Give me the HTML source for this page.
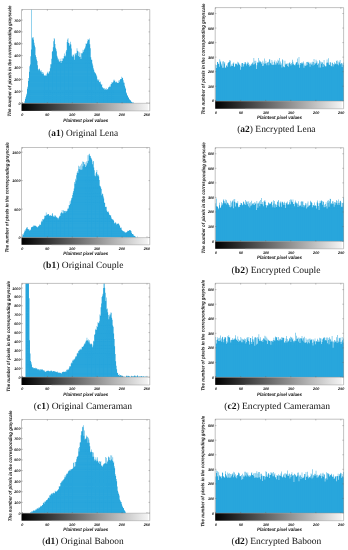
<!DOCTYPE html>
<html><head><meta charset="utf-8"><title>Histograms</title>
<style>
html,body{margin:0;padding:0;background:#fff;}
svg{display:block}
text{text-rendering:geometricPrecision}
.t{font-family:"Liberation Sans",sans-serif;font-weight:bold;font-style:italic;font-size:3.75px;fill:#111}
.l{font-family:"Liberation Sans",sans-serif;font-weight:bold;font-style:italic;font-size:4.8px;fill:#111}
.c{font-family:"Liberation Serif",serif;font-size:9.5px;fill:#111}
</style></head><body>
<svg width="348" height="550" viewBox="0 0 348 550">
<defs><linearGradient id="gr" x1="0" x2="1" y1="0" y2="0"><stop offset="0" stop-color="#000"/><stop offset="1" stop-color="#f4f4f4"/></linearGradient></defs>
<rect width="348" height="550" fill="#fff"/>
<g>
<path d="M23.994 103.30V103.14H24.442V103.30ZM24.492 103.30V101.26H24.940V103.30ZM24.990 103.30V98.94H25.438V103.30ZM25.488 103.30V97.18H25.936V103.30ZM25.986 103.30V95.47H26.434V103.30ZM26.484 103.30V93.69H26.932V103.30ZM26.982 103.30V88.72H27.430V103.30ZM27.480 103.30V86.73H27.928V103.30ZM27.978 103.30V81.08H28.426V103.30ZM28.476 103.30V77.99H28.924V103.30ZM28.974 103.30V71.70H29.422V103.30ZM29.472 103.30V66.30H29.920V103.30ZM29.970 103.30V64.56H30.418V103.30ZM30.468 103.30V56.34H30.916V103.30ZM30.966 103.30V49.44H31.414V103.30ZM31.464 103.30V9.50H31.912V103.30ZM31.962 103.30V38.19H32.410V103.30ZM32.460 103.30V37.14H32.908V103.30ZM32.958 103.30V39.79H33.406V103.30ZM33.456 103.30V37.36H33.904V103.30ZM33.954 103.30V42.76H34.402V103.30ZM34.452 103.30V45.58H34.900V103.30ZM34.950 103.30V47.18H35.398V103.30ZM35.448 103.30V55.17H35.896V103.30ZM35.946 103.30V57.12H36.394V103.30ZM36.444 103.30V59.41H36.892V103.30ZM36.942 103.30V61.01H37.390V103.30ZM37.440 103.30V65.34H37.888V103.30ZM37.938 103.30V69.08H38.386V103.30ZM38.436 103.30V70.25H38.884V103.30ZM38.934 103.30V68.39H39.382V103.30ZM39.432 103.30V69.35H39.880V103.30ZM39.930 103.30V70.57H40.378V103.30ZM40.428 103.30V71.54H40.876V103.30ZM40.926 103.30V70.22H41.374V103.30ZM41.424 103.30V72.31H41.872V103.30ZM41.922 103.30V74.11H42.370V103.30ZM42.420 103.30V71.89H42.868V103.30ZM42.918 103.30V72.57H43.366V103.30ZM43.416 103.30V73.75H43.864V103.30ZM43.914 103.30V75.49H44.362V103.30ZM44.412 103.30V75.61H44.860V103.30ZM44.910 103.30V75.24H45.358V103.30ZM45.408 103.30V75.87H45.856V103.30ZM45.906 103.30V74.24H46.354V103.30ZM46.404 103.30V75.64H46.852V103.30ZM46.902 103.30V73.05H47.350V103.30ZM47.400 103.30V71.78H47.848V103.30ZM47.898 103.30V74.02H48.346V103.30ZM48.396 103.30V72.75H48.844V103.30ZM48.894 103.30V71.23H49.342V103.30ZM49.392 103.30V71.62H49.840V103.30ZM49.890 103.30V68.37H50.338V103.30ZM50.388 103.30V64.34H50.836V103.30ZM50.886 103.30V64.25H51.334V103.30ZM51.384 103.30V58.86H51.832V103.30ZM51.882 103.30V51.83H52.330V103.30ZM52.380 103.30V50.96H52.828V103.30ZM52.878 103.30V47.16H53.326V103.30ZM53.376 103.30V41.26H53.824V103.30ZM53.874 103.30V38.06H54.322V103.30ZM54.372 103.30V39.30H54.820V103.30ZM54.870 103.30V43.89H55.318V103.30ZM55.368 103.30V47.65H55.816V103.30ZM55.866 103.30V49.17H56.314V103.30ZM56.364 103.30V51.15H56.812V103.30ZM56.862 103.30V55.81H57.310V103.30ZM57.360 103.30V57.52H57.808V103.30ZM57.858 103.30V59.85H58.306V103.30ZM58.356 103.30V58.79H58.804V103.30ZM58.854 103.30V61.17H59.302V103.30ZM59.352 103.30V61.63H59.800V103.30ZM59.850 103.30V58.69H60.298V103.30ZM60.348 103.30V61.11H60.796V103.30ZM60.846 103.30V63.12H61.294V103.30ZM61.344 103.30V61.10H61.792V103.30ZM61.842 103.30V58.21H62.290V103.30ZM62.340 103.30V60.89H62.788V103.30ZM62.838 103.30V58.85H63.286V103.30ZM63.336 103.30V58.18H63.784V103.30ZM63.834 103.30V55.97H64.282V103.30ZM64.332 103.30V53.49H64.780V103.30ZM64.830 103.30V56.45H65.278V103.30ZM65.328 103.30V55.51H65.776V103.30ZM65.826 103.30V51.45H66.274V103.30ZM66.324 103.30V49.95H66.772V103.30ZM66.822 103.30V41.99H67.270V103.30ZM67.320 103.30V39.39H67.768V103.30ZM67.818 103.30V38.18H68.266V103.30ZM68.316 103.30V42.63H68.764V103.30ZM68.814 103.30V43.08H69.262V103.30ZM69.312 103.30V45.87H69.760V103.30ZM69.810 103.30V44.32H70.258V103.30ZM70.308 103.30V41.69H70.756V103.30ZM70.806 103.30V44.38H71.254V103.30ZM71.304 103.30V48.45H71.752V103.30ZM71.802 103.30V55.66H72.250V103.30ZM72.300 103.30V56.84H72.748V103.30ZM72.798 103.30V54.42H73.246V103.30ZM73.296 103.30V54.85H73.744V103.30ZM73.794 103.30V56.51H74.242V103.30ZM74.292 103.30V59.71H74.740V103.30ZM74.790 103.30V53.62H75.238V103.30ZM75.288 103.30V53.58H75.736V103.30ZM75.786 103.30V55.18H76.234V103.30ZM76.284 103.30V52.95H76.732V103.30ZM76.782 103.30V48.20H77.230V103.30ZM77.280 103.30V50.87H77.728V103.30ZM77.778 103.30V51.20H78.226V103.30ZM78.276 103.30V56.09H78.724V103.30ZM78.774 103.30V51.81H79.222V103.30ZM79.272 103.30V56.98H79.720V103.30ZM79.770 103.30V52.68H80.218V103.30ZM80.268 103.30V56.66H80.716V103.30ZM80.766 103.30V58.89H81.214V103.30ZM81.264 103.30V53.07H81.712V103.30ZM81.762 103.30V53.68H82.210V103.30ZM82.260 103.30V52.82H82.708V103.30ZM82.758 103.30V49.80H83.206V103.30ZM83.256 103.30V51.79H83.704V103.30ZM83.754 103.30V49.99H84.202V103.30ZM84.252 103.30V48.78H84.700V103.30ZM84.750 103.30V48.23H85.198V103.30ZM85.248 103.30V46.58H85.696V103.30ZM85.746 103.30V43.59H86.194V103.30ZM86.244 103.30V43.96H86.692V103.30ZM86.742 103.30V43.16H87.190V103.30ZM87.240 103.30V41.25H87.688V103.30ZM87.738 103.30V39.18H88.186V103.30ZM88.236 103.30V39.38H88.684V103.30ZM88.734 103.30V40.02H89.182V103.30ZM89.232 103.30V38.45H89.680V103.30ZM89.730 103.30V44.31H90.178V103.30ZM90.228 103.30V48.21H90.676V103.30ZM90.726 103.30V57.20H91.174V103.30ZM91.224 103.30V59.84H91.672V103.30ZM91.722 103.30V59.79H92.170V103.30ZM92.220 103.30V63.53H92.668V103.30ZM92.718 103.30V65.49H93.166V103.30ZM93.216 103.30V68.25H93.664V103.30ZM93.714 103.30V69.83H94.162V103.30ZM94.212 103.30V71.71H94.660V103.30ZM94.710 103.30V72.46H95.158V103.30ZM95.208 103.30V72.89H95.656V103.30ZM95.706 103.30V73.95H96.154V103.30ZM96.204 103.30V75.29H96.652V103.30ZM96.702 103.30V76.54H97.150V103.30ZM97.200 103.30V79.21H97.648V103.30ZM97.698 103.30V80.43H98.146V103.30ZM98.196 103.30V80.62H98.644V103.30ZM98.694 103.30V79.14H99.142V103.30ZM99.192 103.30V81.91H99.640V103.30ZM99.690 103.30V82.22H100.138V103.30ZM100.188 103.30V81.38H100.636V103.30ZM100.686 103.30V83.84H101.134V103.30ZM101.184 103.30V84.91H101.632V103.30ZM101.682 103.30V84.00H102.130V103.30ZM102.180 103.30V87.14H102.628V103.30ZM102.678 103.30V87.40H103.126V103.30ZM103.176 103.30V88.54H103.624V103.30ZM103.674 103.30V88.31H104.122V103.30ZM104.172 103.30V88.37H104.620V103.30ZM104.670 103.30V89.79H105.118V103.30ZM105.168 103.30V88.82H105.616V103.30ZM105.666 103.30V89.43H106.114V103.30ZM106.164 103.30V88.15H106.612V103.30ZM106.662 103.30V89.97H107.110V103.30ZM107.160 103.30V89.05H107.608V103.30ZM107.658 103.30V89.23H108.106V103.30ZM108.156 103.30V87.53H108.604V103.30ZM108.654 103.30V87.37H109.102V103.30ZM109.152 103.30V87.10H109.600V103.30ZM109.650 103.30V85.76H110.098V103.30ZM110.148 103.30V86.87H110.596V103.30ZM110.646 103.30V84.23H111.094V103.30ZM111.144 103.30V84.12H111.592V103.30ZM111.642 103.30V82.16H112.090V103.30ZM112.140 103.30V82.74H112.588V103.30ZM112.638 103.30V82.23H113.086V103.30ZM113.136 103.30V81.38H113.584V103.30ZM113.634 103.30V79.72H114.082V103.30ZM114.132 103.30V81.05H114.580V103.30ZM114.630 103.30V79.79H115.078V103.30ZM115.128 103.30V81.68H115.576V103.30ZM115.626 103.30V82.38H116.074V103.30ZM116.124 103.30V82.13H116.572V103.30ZM116.622 103.30V81.62H117.070V103.30ZM117.120 103.30V82.74H117.568V103.30ZM117.618 103.30V83.02H118.066V103.30ZM118.116 103.30V82.95H118.564V103.30ZM118.614 103.30V80.60H119.062V103.30ZM119.112 103.30V81.83H119.560V103.30ZM119.610 103.30V80.00H120.058V103.30ZM120.108 103.30V79.37H120.556V103.30ZM120.606 103.30V78.96H121.054V103.30ZM121.104 103.30V78.98H121.552V103.30ZM121.602 103.30V76.68H122.050V103.30ZM122.100 103.30V77.72H122.548V103.30ZM122.598 103.30V77.89H123.046V103.30ZM123.096 103.30V80.17H123.544V103.30ZM123.594 103.30V82.41H124.042V103.30ZM124.092 103.30V82.87H124.540V103.30ZM124.590 103.30V85.65H125.038V103.30ZM125.088 103.30V87.47H125.536V103.30ZM125.586 103.30V88.81H126.034V103.30ZM126.084 103.30V92.54H126.532V103.30ZM126.582 103.30V93.61H127.030V103.30ZM127.080 103.30V95.15H127.528V103.30ZM127.578 103.30V95.71H128.026V103.30ZM128.076 103.30V97.14H128.524V103.30ZM128.574 103.30V97.65H129.022V103.30ZM129.072 103.30V99.06H129.520V103.30ZM129.570 103.30V99.77H130.018V103.30ZM130.068 103.30V99.99H130.516V103.30ZM130.566 103.30V100.69H131.014V103.30ZM131.064 103.30V101.66H131.512V103.30ZM131.562 103.30V101.77H132.010V103.30ZM132.060 103.30V102.62H132.508V103.30ZM132.558 103.30V102.60H133.006V103.30ZM133.056 103.30V102.49H133.504V103.30ZM133.554 103.30V102.64H134.002V103.30Z" fill="#0e9bd8"/>
<rect x="21.5" y="103.3" width="126.45" height="7.60" fill="url(#gr)"/>
<path d="M21.5 103.3V9.5H149.75V110.9" fill="none" stroke="#8f8f8f" stroke-width="0.55"/>
<path d="M21.5 103.3H149.75M51.5 110.9H149.75" fill="none" stroke="#8f8f8f" stroke-width="0.45"/>
<text class="t" x="20.50" y="104.50" text-anchor="end">0</text>
<text class="t" x="20.50" y="92.65" text-anchor="end">100</text>
<text class="t" x="20.50" y="80.80" text-anchor="end">200</text>
<text class="t" x="20.50" y="68.95" text-anchor="end">300</text>
<text class="t" x="20.50" y="57.10" text-anchor="end">400</text>
<text class="t" x="20.50" y="45.25" text-anchor="end">500</text>
<text class="t" x="20.50" y="33.40" text-anchor="end">600</text>
<text class="t" x="20.50" y="21.55" text-anchor="end">700</text>
<text class="t" x="22.40" y="116.05" text-anchor="middle">0</text>
<text class="t" x="47.30" y="116.05" text-anchor="middle">50</text>
<text class="t" x="72.20" y="116.05" text-anchor="middle">100</text>
<text class="t" x="97.10" y="116.05" text-anchor="middle">150</text>
<text class="t" x="122.00" y="116.05" text-anchor="middle">200</text>
<text class="t" x="146.90" y="116.05" text-anchor="middle">250</text>
<path d="M21.5 103.00h1.2M149.75 103.00h-1.2M21.5 91.15h1.2M149.75 91.15h-1.2M21.5 79.30h1.2M149.75 79.30h-1.2M21.5 67.45h1.2M149.75 67.45h-1.2M21.5 55.60h1.2M149.75 55.60h-1.2M21.5 43.75h1.2M149.75 43.75h-1.2M21.5 31.90h1.2M149.75 31.90h-1.2M21.5 20.05h1.2M149.75 20.05h-1.2M22.50 103.3v-1.2M22.50 9.5v1.2M47.40 103.3v-1.2M47.40 9.5v1.2M72.30 103.3v-1.2M72.30 9.5v1.2M97.20 103.3v-1.2M97.20 9.5v1.2M122.10 103.3v-1.2M122.10 9.5v1.2M147.00 103.3v-1.2M147.00 9.5v1.2" stroke="#666" stroke-width="0.45" fill="none"/>
<text class="l" transform="translate(11.20 61.00) rotate(-89.9)" text-anchor="middle" textLength="110.8" lengthAdjust="spacingAndGlyphs">The number of pixels in the corresponding grayscale</text>
<text class="l" x="85.78" y="121.50" text-anchor="middle" textLength="45.0" lengthAdjust="spacingAndGlyphs">Plaintext pixel values</text>
</g>
<g>
<path d="M215.600 101.10V64.43H216.051V101.10ZM216.101 101.10V68.09H216.552V101.10ZM216.602 101.10V65.01H217.053V101.10ZM217.103 101.10V62.09H217.554V101.10ZM217.604 101.10V62.10H218.055V101.10ZM218.105 101.10V63.54H218.556V101.10ZM218.606 101.10V63.96H219.057V101.10ZM219.107 101.10V66.71H219.558V101.10ZM219.608 101.10V59.16H220.059V101.10ZM220.109 101.10V62.21H220.560V101.10ZM220.610 101.10V60.87H221.061V101.10ZM221.111 101.10V65.47H221.562V101.10ZM221.612 101.10V63.85H222.063V101.10ZM222.113 101.10V67.65H222.564V101.10ZM222.614 101.10V61.60H223.065V101.10ZM223.115 101.10V61.24H223.566V101.10ZM223.616 101.10V67.83H224.067V101.10ZM224.117 101.10V63.54H224.568V101.10ZM224.618 101.10V61.95H225.069V101.10ZM225.119 101.10V67.52H225.570V101.10ZM225.620 101.10V67.67H226.071V101.10ZM226.121 101.10V65.90H226.572V101.10ZM226.622 101.10V64.88H227.073V101.10ZM227.123 101.10V66.68H227.574V101.10ZM227.624 101.10V63.34H228.075V101.10ZM228.125 101.10V62.83H228.576V101.10ZM228.626 101.10V61.94H229.077V101.10ZM229.127 101.10V61.78H229.578V101.10ZM229.628 101.10V59.92H230.079V101.10ZM230.129 101.10V60.70H230.580V101.10ZM230.630 101.10V66.47H231.081V101.10ZM231.131 101.10V64.59H231.582V101.10ZM231.632 101.10V65.88H232.083V101.10ZM232.133 101.10V65.92H232.584V101.10ZM232.634 101.10V63.60H233.085V101.10ZM233.135 101.10V63.40H233.586V101.10ZM233.636 101.10V62.27H234.087V101.10ZM234.137 101.10V67.11H234.588V101.10ZM234.638 101.10V66.30H235.089V101.10ZM235.139 101.10V63.47H235.590V101.10ZM235.640 101.10V63.88H236.091V101.10ZM236.141 101.10V64.14H236.592V101.10ZM236.642 101.10V63.56H237.093V101.10ZM237.143 101.10V65.18H237.594V101.10ZM237.644 101.10V61.78H238.095V101.10ZM238.145 101.10V62.59H238.596V101.10ZM238.646 101.10V63.62H239.097V101.10ZM239.147 101.10V64.98H239.598V101.10ZM239.648 101.10V63.82H240.099V101.10ZM240.149 101.10V69.75H240.600V101.10ZM240.650 101.10V65.70H241.101V101.10ZM241.151 101.10V63.33H241.602V101.10ZM241.652 101.10V66.92H242.103V101.10ZM242.153 101.10V62.95H242.604V101.10ZM242.654 101.10V63.07H243.105V101.10ZM243.155 101.10V66.62H243.606V101.10ZM243.656 101.10V64.00H244.107V101.10ZM244.157 101.10V64.15H244.608V101.10ZM244.658 101.10V62.34H245.109V101.10ZM245.159 101.10V61.99H245.610V101.10ZM245.660 101.10V63.50H246.111V101.10ZM246.161 101.10V65.40H246.612V101.10ZM246.662 101.10V63.75H247.113V101.10ZM247.163 101.10V63.57H247.614V101.10ZM247.664 101.10V61.71H248.115V101.10ZM248.165 101.10V62.73H248.616V101.10ZM248.666 101.10V65.10H249.117V101.10ZM249.167 101.10V66.57H249.618V101.10ZM249.668 101.10V64.28H250.119V101.10ZM250.169 101.10V65.14H250.620V101.10ZM250.670 101.10V66.00H251.121V101.10ZM251.171 101.10V63.69H251.622V101.10ZM251.672 101.10V64.56H252.123V101.10ZM252.173 101.10V63.17H252.624V101.10ZM252.674 101.10V62.20H253.125V101.10ZM253.175 101.10V64.38H253.626V101.10ZM253.676 101.10V58.00H254.127V101.10ZM254.177 101.10V64.16H254.628V101.10ZM254.678 101.10V60.85H255.129V101.10ZM255.179 101.10V63.13H255.630V101.10ZM255.680 101.10V60.82H256.131V101.10ZM256.181 101.10V68.95H256.632V101.10ZM256.682 101.10V65.16H257.133V101.10ZM257.183 101.10V62.84H257.634V101.10ZM257.684 101.10V62.01H258.135V101.10ZM258.185 101.10V57.98H258.636V101.10ZM258.686 101.10V62.66H259.137V101.10ZM259.187 101.10V60.44H259.638V101.10ZM259.688 101.10V61.63H260.139V101.10ZM260.189 101.10V61.21H260.640V101.10ZM260.690 101.10V62.23H261.141V101.10ZM261.191 101.10V63.78H261.642V101.10ZM261.692 101.10V62.23H262.143V101.10ZM262.193 101.10V65.93H262.644V101.10ZM262.694 101.10V60.67H263.145V101.10ZM263.195 101.10V65.78H263.646V101.10ZM263.696 101.10V62.84H264.147V101.10ZM264.197 101.10V58.48H264.648V101.10ZM264.698 101.10V63.94H265.149V101.10ZM265.199 101.10V63.37H265.650V101.10ZM265.700 101.10V60.71H266.151V101.10ZM266.201 101.10V63.35H266.652V101.10ZM266.702 101.10V65.30H267.153V101.10ZM267.203 101.10V62.81H267.654V101.10ZM267.704 101.10V62.06H268.155V101.10ZM268.205 101.10V61.76H268.656V101.10ZM268.706 101.10V65.21H269.157V101.10ZM269.207 101.10V59.34H269.658V101.10ZM269.708 101.10V59.54H270.159V101.10ZM270.209 101.10V63.37H270.660V101.10ZM270.710 101.10V62.79H271.161V101.10ZM271.211 101.10V64.41H271.662V101.10ZM271.712 101.10V60.12H272.163V101.10ZM272.213 101.10V65.06H272.664V101.10ZM272.714 101.10V61.85H273.165V101.10ZM273.215 101.10V64.53H273.666V101.10ZM273.716 101.10V65.03H274.167V101.10ZM274.217 101.10V61.74H274.668V101.10ZM274.718 101.10V60.31H275.169V101.10ZM275.219 101.10V63.44H275.670V101.10ZM275.720 101.10V64.99H276.171V101.10ZM276.221 101.10V61.53H276.672V101.10ZM276.722 101.10V63.53H277.173V101.10ZM277.223 101.10V62.69H277.674V101.10ZM277.724 101.10V59.87H278.175V101.10ZM278.225 101.10V60.78H278.676V101.10ZM278.726 101.10V64.63H279.177V101.10ZM279.227 101.10V58.10H279.678V101.10ZM279.728 101.10V63.41H280.179V101.10ZM280.229 101.10V61.59H280.680V101.10ZM280.730 101.10V64.92H281.181V101.10ZM281.231 101.10V63.52H281.682V101.10ZM281.732 101.10V67.49H282.183V101.10ZM282.233 101.10V59.26H282.684V101.10ZM282.734 101.10V60.24H283.185V101.10ZM283.235 101.10V66.24H283.686V101.10ZM283.736 101.10V66.92H284.187V101.10ZM284.237 101.10V67.19H284.688V101.10ZM284.738 101.10V60.68H285.189V101.10ZM285.239 101.10V64.49H285.690V101.10ZM285.740 101.10V63.56H286.191V101.10ZM286.241 101.10V64.14H286.692V101.10ZM286.742 101.10V63.70H287.193V101.10ZM287.243 101.10V65.95H287.694V101.10ZM287.744 101.10V63.36H288.195V101.10ZM288.245 101.10V66.76H288.696V101.10ZM288.746 101.10V63.58H289.197V101.10ZM289.247 101.10V62.70H289.698V101.10ZM289.748 101.10V62.33H290.199V101.10ZM290.249 101.10V63.95H290.700V101.10ZM290.750 101.10V65.52H291.201V101.10ZM291.251 101.10V63.04H291.702V101.10ZM291.752 101.10V64.54H292.203V101.10ZM292.253 101.10V59.77H292.704V101.10ZM292.754 101.10V61.63H293.205V101.10ZM293.255 101.10V63.68H293.706V101.10ZM293.756 101.10V64.51H294.207V101.10ZM294.257 101.10V65.05H294.708V101.10ZM294.758 101.10V65.60H295.209V101.10ZM295.259 101.10V64.24H295.710V101.10ZM295.760 101.10V62.73H296.211V101.10ZM296.261 101.10V62.22H296.712V101.10ZM296.762 101.10V62.09H297.213V101.10ZM297.263 101.10V58.53H297.714V101.10ZM297.764 101.10V65.06H298.215V101.10ZM298.265 101.10V63.39H298.716V101.10ZM298.766 101.10V56.91H299.217V101.10ZM299.267 101.10V67.76H299.718V101.10ZM299.768 101.10V64.63H300.219V101.10ZM300.269 101.10V63.02H300.720V101.10ZM300.770 101.10V63.06H301.221V101.10ZM301.271 101.10V62.47H301.722V101.10ZM301.772 101.10V63.97H302.223V101.10ZM302.273 101.10V62.56H302.724V101.10ZM302.774 101.10V63.29H303.225V101.10ZM303.275 101.10V61.62H303.726V101.10ZM303.776 101.10V67.82H304.227V101.10ZM304.277 101.10V65.48H304.728V101.10ZM304.778 101.10V63.42H305.229V101.10ZM305.279 101.10V65.82H305.730V101.10ZM305.780 101.10V65.85H306.231V101.10ZM306.281 101.10V61.95H306.732V101.10ZM306.782 101.10V64.93H307.233V101.10ZM307.283 101.10V61.94H307.734V101.10ZM307.784 101.10V61.68H308.235V101.10ZM308.285 101.10V62.70H308.736V101.10ZM308.786 101.10V62.23H309.237V101.10ZM309.287 101.10V63.66H309.738V101.10ZM309.788 101.10V66.70H310.239V101.10ZM310.289 101.10V63.49H310.740V101.10ZM310.790 101.10V62.36H311.241V101.10ZM311.291 101.10V64.65H311.742V101.10ZM311.792 101.10V63.65H312.243V101.10ZM312.293 101.10V61.67H312.744V101.10ZM312.794 101.10V65.46H313.245V101.10ZM313.295 101.10V61.93H313.746V101.10ZM313.796 101.10V59.08H314.247V101.10ZM314.297 101.10V64.71H314.748V101.10ZM314.798 101.10V63.07H315.249V101.10ZM315.299 101.10V63.77H315.750V101.10ZM315.800 101.10V59.83H316.251V101.10ZM316.301 101.10V62.68H316.752V101.10ZM316.802 101.10V61.33H317.253V101.10ZM317.303 101.10V65.02H317.754V101.10ZM317.804 101.10V63.45H318.255V101.10ZM318.305 101.10V63.44H318.756V101.10ZM318.806 101.10V67.55H319.257V101.10ZM319.307 101.10V60.06H319.758V101.10ZM319.808 101.10V61.32H320.259V101.10ZM320.309 101.10V67.49H320.760V101.10ZM320.810 101.10V61.68H321.261V101.10ZM321.311 101.10V63.72H321.762V101.10ZM321.812 101.10V62.37H322.263V101.10ZM322.313 101.10V62.56H322.764V101.10ZM322.814 101.10V66.91H323.265V101.10ZM323.315 101.10V63.91H323.766V101.10ZM323.816 101.10V59.94H324.267V101.10ZM324.317 101.10V64.75H324.768V101.10ZM324.818 101.10V65.80H325.269V101.10ZM325.319 101.10V66.58H325.770V101.10ZM325.820 101.10V66.26H326.271V101.10ZM326.321 101.10V62.63H326.772V101.10ZM326.822 101.10V59.48H327.273V101.10ZM327.323 101.10V62.42H327.774V101.10ZM327.824 101.10V62.84H328.275V101.10ZM328.325 101.10V58.22H328.776V101.10ZM328.826 101.10V64.62H329.277V101.10ZM329.327 101.10V64.98H329.778V101.10ZM329.828 101.10V62.19H330.279V101.10ZM330.329 101.10V62.14H330.780V101.10ZM330.830 101.10V65.78H331.281V101.10ZM331.331 101.10V66.14H331.782V101.10ZM331.832 101.10V62.74H332.283V101.10ZM332.333 101.10V62.84H332.784V101.10ZM332.834 101.10V66.46H333.285V101.10ZM333.335 101.10V63.89H333.786V101.10ZM333.836 101.10V64.68H334.287V101.10ZM334.337 101.10V62.34H334.788V101.10ZM334.838 101.10V63.69H335.289V101.10ZM335.339 101.10V63.62H335.790V101.10ZM335.840 101.10V64.24H336.291V101.10ZM336.341 101.10V60.96H336.792V101.10ZM336.842 101.10V60.18H337.293V101.10ZM337.343 101.10V64.27H337.794V101.10ZM337.844 101.10V61.45H338.295V101.10ZM338.345 101.10V65.18H338.796V101.10ZM338.846 101.10V63.25H339.297V101.10ZM339.347 101.10V61.67H339.798V101.10ZM339.848 101.10V59.89H340.299V101.10ZM340.349 101.10V64.31H340.800V101.10ZM340.850 101.10V63.59H341.301V101.10ZM341.351 101.10V62.96H341.802V101.10ZM341.852 101.10V66.90H342.303V101.10ZM342.353 101.10V63.38H342.804V101.10ZM342.854 101.10V64.99H343.305V101.10ZM343.355 101.10V62.55H343.806V101.10Z" fill="#0e9bd8"/>
<rect x="215.2" y="101.1" width="126.60" height="7.65" fill="url(#gr)"/>
<path d="M215.2 101.1V7.6H343.6V108.75" fill="none" stroke="#8f8f8f" stroke-width="0.55"/>
<path d="M215.2 101.1H343.6M245.2 108.75H343.6" fill="none" stroke="#8f8f8f" stroke-width="0.45"/>
<text class="t" x="214.20" y="102.30" text-anchor="end">0</text>
<text class="t" x="214.20" y="87.75" text-anchor="end">100</text>
<text class="t" x="214.20" y="73.20" text-anchor="end">200</text>
<text class="t" x="214.20" y="58.65" text-anchor="end">300</text>
<text class="t" x="214.20" y="44.10" text-anchor="end">400</text>
<text class="t" x="214.20" y="29.55" text-anchor="end">500</text>
<text class="t" x="214.20" y="15.00" text-anchor="end">600</text>
<text class="t" x="216.00" y="113.90" text-anchor="middle">0</text>
<text class="t" x="241.05" y="113.90" text-anchor="middle">50</text>
<text class="t" x="266.10" y="113.90" text-anchor="middle">100</text>
<text class="t" x="291.15" y="113.90" text-anchor="middle">150</text>
<text class="t" x="316.20" y="113.90" text-anchor="middle">200</text>
<text class="t" x="341.25" y="113.90" text-anchor="middle">250</text>
<path d="M215.2 100.80h1.2M343.6 100.80h-1.2M215.2 86.25h1.2M343.6 86.25h-1.2M215.2 71.70h1.2M343.6 71.70h-1.2M215.2 57.15h1.2M343.6 57.15h-1.2M215.2 42.60h1.2M343.6 42.60h-1.2M215.2 28.05h1.2M343.6 28.05h-1.2M215.2 13.50h1.2M343.6 13.50h-1.2M215.60 101.1v-1.2M215.60 7.6v1.2M240.65 101.1v-1.2M240.65 7.6v1.2M265.70 101.1v-1.2M265.70 7.6v1.2M290.75 101.1v-1.2M290.75 7.6v1.2M315.80 101.1v-1.2M315.80 7.6v1.2M340.85 101.1v-1.2M340.85 7.6v1.2" stroke="#666" stroke-width="0.45" fill="none"/>
<text class="l" transform="translate(204.80 59.10) rotate(-89.9)" text-anchor="middle" textLength="111.0" lengthAdjust="spacingAndGlyphs">The number of pixels in the corresponding grayscale</text>
<text class="l" x="279.55" y="119.35" text-anchor="middle" textLength="45.0" lengthAdjust="spacingAndGlyphs">Plaintext pixel values</text>
</g>
<g>
<path d="M22.500 237.60V234.35H22.948V237.60ZM22.998 237.60V234.78H23.446V237.60ZM23.496 237.60V233.21H23.944V237.60ZM23.994 237.60V232.36H24.442V237.60ZM24.492 237.60V230.60H24.940V237.60ZM24.990 237.60V230.68H25.438V237.60ZM25.488 237.60V229.17H25.936V237.60ZM25.986 237.60V228.50H26.434V237.60ZM26.484 237.60V227.55H26.932V237.60ZM26.982 237.60V227.09H27.430V237.60ZM27.480 237.60V228.72H27.928V237.60ZM27.978 237.60V229.49H28.426V237.60ZM28.476 237.60V229.11H28.924V237.60ZM28.974 237.60V230.83H29.422V237.60ZM29.472 237.60V229.48H29.920V237.60ZM29.970 237.60V230.36H30.418V237.60ZM30.468 237.60V229.49H30.916V237.60ZM30.966 237.60V227.41H31.414V237.60ZM31.464 237.60V226.92H31.912V237.60ZM31.962 237.60V227.07H32.410V237.60ZM32.460 237.60V226.54H32.908V237.60ZM32.958 237.60V226.43H33.406V237.60ZM33.456 237.60V225.42H33.904V237.60ZM33.954 237.60V225.30H34.402V237.60ZM34.452 237.60V225.94H34.900V237.60ZM34.950 237.60V225.84H35.398V237.60ZM35.448 237.60V225.77H35.896V237.60ZM35.946 237.60V226.24H36.394V237.60ZM36.444 237.60V226.76H36.892V237.60ZM36.942 237.60V227.11H37.390V237.60ZM37.440 237.60V227.53H37.888V237.60ZM37.938 237.60V226.00H38.386V237.60ZM38.436 237.60V226.54H38.884V237.60ZM38.934 237.60V225.49H39.382V237.60ZM39.432 237.60V224.62H39.880V237.60ZM39.930 237.60V224.59H40.378V237.60ZM40.428 237.60V224.92H40.876V237.60ZM40.926 237.60V222.26H41.374V237.60ZM41.424 237.60V220.80H41.872V237.60ZM41.922 237.60V221.62H42.370V237.60ZM42.420 237.60V219.01H42.868V237.60ZM42.918 237.60V219.51H43.366V237.60ZM43.416 237.60V219.22H43.864V237.60ZM43.914 237.60V218.51H44.362V237.60ZM44.412 237.60V215.66H44.860V237.60ZM44.910 237.60V215.60H45.358V237.60ZM45.408 237.60V216.02H45.856V237.60ZM45.906 237.60V212.57H46.354V237.60ZM46.404 237.60V215.21H46.852V237.60ZM46.902 237.60V214.92H47.350V237.60ZM47.400 237.60V214.16H47.848V237.60ZM47.898 237.60V213.90H48.346V237.60ZM48.396 237.60V213.97H48.844V237.60ZM48.894 237.60V215.34H49.342V237.60ZM49.392 237.60V215.93H49.840V237.60ZM49.890 237.60V214.91H50.338V237.60ZM50.388 237.60V215.39H50.836V237.60ZM50.886 237.60V216.06H51.334V237.60ZM51.384 237.60V215.80H51.832V237.60ZM51.882 237.60V214.24H52.330V237.60ZM52.380 237.60V212.95H52.828V237.60ZM52.878 237.60V216.24H53.326V237.60ZM53.376 237.60V216.43H53.824V237.60ZM53.874 237.60V215.20H54.322V237.60ZM54.372 237.60V216.82H54.820V237.60ZM54.870 237.60V215.80H55.318V237.60ZM55.368 237.60V215.57H55.816V237.60ZM55.866 237.60V217.13H56.314V237.60ZM56.364 237.60V216.80H56.812V237.60ZM56.862 237.60V217.69H57.310V237.60ZM57.360 237.60V217.87H57.808V237.60ZM57.858 237.60V219.28H58.306V237.60ZM58.356 237.60V218.08H58.804V237.60ZM58.854 237.60V217.10H59.302V237.60ZM59.352 237.60V215.87H59.800V237.60ZM59.850 237.60V215.91H60.298V237.60ZM60.348 237.60V213.54H60.796V237.60ZM60.846 237.60V212.75H61.294V237.60ZM61.344 237.60V212.24H61.792V237.60ZM61.842 237.60V209.98H62.290V237.60ZM62.340 237.60V213.25H62.788V237.60ZM62.838 237.60V213.30H63.286V237.60ZM63.336 237.60V210.27H63.784V237.60ZM63.834 237.60V210.87H64.282V237.60ZM64.332 237.60V211.12H64.780V237.60ZM64.830 237.60V212.67H65.278V237.60ZM65.328 237.60V211.12H65.776V237.60ZM65.826 237.60V210.63H66.274V237.60ZM66.324 237.60V211.39H66.772V237.60ZM66.822 237.60V211.07H67.270V237.60ZM67.320 237.60V209.33H67.768V237.60ZM67.818 237.60V207.66H68.266V237.60ZM68.316 237.60V208.74H68.764V237.60ZM68.814 237.60V205.09H69.262V237.60ZM69.312 237.60V205.17H69.760V237.60ZM69.810 237.60V201.35H70.258V237.60ZM70.308 237.60V203.77H70.756V237.60ZM70.806 237.60V200.36H71.254V237.60ZM71.304 237.60V198.20H71.752V237.60ZM71.802 237.60V197.69H72.250V237.60ZM72.300 237.60V195.08H72.748V237.60ZM72.798 237.60V192.72H73.246V237.60ZM73.296 237.60V191.04H73.744V237.60ZM73.794 237.60V188.52H74.242V237.60ZM74.292 237.60V182.04H74.740V237.60ZM74.790 237.60V183.84H75.238V237.60ZM75.288 237.60V178.85H75.736V237.60ZM75.786 237.60V180.52H76.234V237.60ZM76.284 237.60V175.16H76.732V237.60ZM76.782 237.60V172.74H77.230V237.60ZM77.280 237.60V171.29H77.728V237.60ZM77.778 237.60V172.91H78.226V237.60ZM78.276 237.60V165.71H78.724V237.60ZM78.774 237.60V169.31H79.222V237.60ZM79.272 237.60V166.42H79.720V237.60ZM79.770 237.60V169.14H80.218V237.60ZM80.268 237.60V165.48H80.716V237.60ZM80.766 237.60V170.07H81.214V237.60ZM81.264 237.60V163.75H81.712V237.60ZM81.762 237.60V169.59H82.210V237.60ZM82.260 237.60V161.52H82.708V237.60ZM82.758 237.60V166.27H83.206V237.60ZM83.256 237.60V161.66H83.704V237.60ZM83.754 237.60V162.05H84.202V237.60ZM84.252 237.60V163.90H84.700V237.60ZM84.750 237.60V164.66H85.198V237.60ZM85.248 237.60V167.05H85.696V237.60ZM85.746 237.60V162.35H86.194V237.60ZM86.244 237.60V165.52H86.692V237.60ZM86.742 237.60V160.91H87.190V237.60ZM87.240 237.60V163.17H87.688V237.60ZM87.738 237.60V155.14H88.186V237.60ZM88.236 237.60V160.81H88.684V237.60ZM88.734 237.60V154.39H89.182V237.60ZM89.232 237.60V153.71H89.680V237.60ZM89.730 237.60V155.64H90.178V237.60ZM90.228 237.60V155.92H90.676V237.60ZM90.726 237.60V157.75H91.174V237.60ZM91.224 237.60V158.53H91.672V237.60ZM91.722 237.60V159.63H92.170V237.60ZM92.220 237.60V164.31H92.668V237.60ZM92.718 237.60V161.50H93.166V237.60ZM93.216 237.60V161.05H93.664V237.60ZM93.714 237.60V167.45H94.162V237.60ZM94.212 237.60V170.29H94.660V237.60ZM94.710 237.60V175.39H95.158V237.60ZM95.208 237.60V176.27H95.656V237.60ZM95.706 237.60V173.34H96.154V237.60ZM96.204 237.60V172.04H96.652V237.60ZM96.702 237.60V170.06H97.150V237.60ZM97.200 237.60V174.13H97.648V237.60ZM97.698 237.60V175.73H98.146V237.60ZM98.196 237.60V174.84H98.644V237.60ZM98.694 237.60V176.39H99.142V237.60ZM99.192 237.60V179.93H99.640V237.60ZM99.690 237.60V185.72H100.138V237.60ZM100.188 237.60V186.36H100.636V237.60ZM100.686 237.60V187.53H101.134V237.60ZM101.184 237.60V189.09H101.632V237.60ZM101.682 237.60V195.34H102.130V237.60ZM102.180 237.60V193.43H102.628V237.60ZM102.678 237.60V194.11H103.126V237.60ZM103.176 237.60V196.43H103.624V237.60ZM103.674 237.60V198.62H104.122V237.60ZM104.172 237.60V202.60H104.620V237.60ZM104.670 237.60V202.99H105.118V237.60ZM105.168 237.60V206.79H105.616V237.60ZM105.666 237.60V206.92H106.114V237.60ZM106.164 237.60V206.80H106.612V237.60ZM106.662 237.60V210.45H107.110V237.60ZM107.160 237.60V212.10H107.608V237.60ZM107.658 237.60V211.52H108.106V237.60ZM108.156 237.60V211.38H108.604V237.60ZM108.654 237.60V212.64H109.102V237.60ZM109.152 237.60V214.65H109.600V237.60ZM109.650 237.60V214.86H110.098V237.60ZM110.148 237.60V215.43H110.596V237.60ZM110.646 237.60V215.34H111.094V237.60ZM111.144 237.60V217.45H111.592V237.60ZM111.642 237.60V218.88H112.090V237.60ZM112.140 237.60V219.18H112.588V237.60ZM112.638 237.60V219.56H113.086V237.60ZM113.136 237.60V219.63H113.584V237.60ZM113.634 237.60V220.71H114.082V237.60ZM114.132 237.60V222.68H114.580V237.60ZM114.630 237.60V223.49H115.078V237.60ZM115.128 237.60V222.54H115.576V237.60ZM115.626 237.60V222.59H116.074V237.60ZM116.124 237.60V224.42H116.572V237.60ZM116.622 237.60V223.57H117.070V237.60ZM117.120 237.60V224.00H117.568V237.60ZM117.618 237.60V223.57H118.066V237.60ZM118.116 237.60V223.20H118.564V237.60ZM118.614 237.60V224.09H119.062V237.60ZM119.112 237.60V224.67H119.560V237.60ZM119.610 237.60V225.72H120.058V237.60ZM120.108 237.60V227.59H120.556V237.60ZM120.606 237.60V227.88H121.054V237.60ZM121.104 237.60V227.62H121.552V237.60ZM121.602 237.60V229.68H122.050V237.60ZM122.100 237.60V230.32H122.548V237.60ZM122.598 237.60V231.07H123.046V237.60ZM123.096 237.60V231.52H123.544V237.60ZM123.594 237.60V231.08H124.042V237.60ZM124.092 237.60V231.49H124.540V237.60ZM124.590 237.60V232.31H125.038V237.60ZM125.088 237.60V232.64H125.536V237.60ZM125.586 237.60V232.26H126.034V237.60ZM126.084 237.60V232.61H126.532V237.60ZM126.582 237.60V232.10H127.030V237.60ZM127.080 237.60V231.50H127.528V237.60ZM127.578 237.60V230.75H128.026V237.60ZM128.076 237.60V230.69H128.524V237.60ZM128.574 237.60V230.94H129.022V237.60ZM129.072 237.60V230.34H129.520V237.60ZM129.570 237.60V229.96H130.018V237.60ZM130.068 237.60V230.44H130.516V237.60ZM130.566 237.60V230.34H131.014V237.60ZM131.064 237.60V231.21H131.512V237.60ZM131.562 237.60V233.05H132.010V237.60ZM132.060 237.60V234.10H132.508V237.60ZM132.558 237.60V234.03H133.006V237.60ZM133.056 237.60V234.29H133.504V237.60ZM133.554 237.60V235.52H134.002V237.60ZM134.052 237.60V235.74H134.500V237.60ZM134.550 237.60V236.00H134.998V237.60ZM135.048 237.60V236.33H135.496V237.60ZM135.546 237.60V236.99H135.994V237.60ZM136.044 237.60V237.44H136.492V237.60ZM136.542 237.60V237.34H136.990V237.60ZM137.040 237.60V236.46H137.488V237.60ZM137.538 237.60V237.48H137.986V237.60ZM138.036 237.60V237.50H138.484V237.60Z" fill="#0e9bd8"/>
<rect x="21.5" y="237.6" width="126.45" height="7.20" fill="url(#gr)"/>
<path d="M21.5 237.6V147.5H149.75V244.8" fill="none" stroke="#8f8f8f" stroke-width="0.55"/>
<path d="M21.5 237.6H149.75M51.5 244.8H149.75" fill="none" stroke="#8f8f8f" stroke-width="0.45"/>
<text class="t" x="20.50" y="239.00" text-anchor="end">0</text>
<text class="t" x="20.50" y="210.55" text-anchor="end">500</text>
<text class="t" x="20.50" y="182.10" text-anchor="end">1000</text>
<text class="t" x="20.50" y="153.65" text-anchor="end">1500</text>
<text class="t" x="22.40" y="249.95" text-anchor="middle">0</text>
<text class="t" x="47.30" y="249.95" text-anchor="middle">50</text>
<text class="t" x="72.20" y="249.95" text-anchor="middle">100</text>
<text class="t" x="97.10" y="249.95" text-anchor="middle">150</text>
<text class="t" x="122.00" y="249.95" text-anchor="middle">200</text>
<text class="t" x="146.90" y="249.95" text-anchor="middle">250</text>
<path d="M21.5 237.50h1.2M149.75 237.50h-1.2M21.5 209.05h1.2M149.75 209.05h-1.2M21.5 180.60h1.2M149.75 180.60h-1.2M21.5 152.15h1.2M149.75 152.15h-1.2M22.50 237.6v-1.2M22.50 147.5v1.2M47.40 237.6v-1.2M47.40 147.5v1.2M72.30 237.6v-1.2M72.30 147.5v1.2M97.20 237.6v-1.2M97.20 147.5v1.2M122.10 237.6v-1.2M122.10 147.5v1.2M147.00 237.6v-1.2M147.00 147.5v1.2" stroke="#666" stroke-width="0.45" fill="none"/>
<text class="l" transform="translate(8.60 197.40) rotate(-89.9)" text-anchor="middle" textLength="110.4" lengthAdjust="spacingAndGlyphs">The number of pixels in the corresponding grayscale</text>
<text class="l" x="85.78" y="255.40" text-anchor="middle" textLength="45.0" lengthAdjust="spacingAndGlyphs">Plaintext pixel values</text>
</g>
<g>
<path d="M215.600 241.40V203.34H216.051V241.40ZM216.101 241.40V198.62H216.552V241.40ZM216.602 241.40V206.13H217.053V241.40ZM217.103 241.40V206.31H217.554V241.40ZM217.604 241.40V206.98H218.055V241.40ZM218.105 241.40V209.27H218.556V241.40ZM218.606 241.40V208.07H219.057V241.40ZM219.107 241.40V202.84H219.558V241.40ZM219.608 241.40V205.18H220.059V241.40ZM220.109 241.40V208.04H220.560V241.40ZM220.610 241.40V207.14H221.061V241.40ZM221.111 241.40V202.25H221.562V241.40ZM221.612 241.40V205.50H222.063V241.40ZM222.113 241.40V204.54H222.564V241.40ZM222.614 241.40V202.92H223.065V241.40ZM223.115 241.40V200.53H223.566V241.40ZM223.616 241.40V199.17H224.067V241.40ZM224.117 241.40V201.28H224.568V241.40ZM224.618 241.40V203.36H225.069V241.40ZM225.119 241.40V203.26H225.570V241.40ZM225.620 241.40V199.49H226.071V241.40ZM226.121 241.40V200.36H226.572V241.40ZM226.622 241.40V204.41H227.073V241.40ZM227.123 241.40V202.62H227.574V241.40ZM227.624 241.40V203.02H228.075V241.40ZM228.125 241.40V203.57H228.576V241.40ZM228.626 241.40V204.85H229.077V241.40ZM229.127 241.40V206.78H229.578V241.40ZM229.628 241.40V204.93H230.079V241.40ZM230.129 241.40V207.29H230.580V241.40ZM230.630 241.40V200.84H231.081V241.40ZM231.131 241.40V202.44H231.582V241.40ZM231.632 241.40V206.50H232.083V241.40ZM232.133 241.40V200.44H232.584V241.40ZM232.634 241.40V201.61H233.085V241.40ZM233.135 241.40V208.14H233.586V241.40ZM233.636 241.40V199.40H234.087V241.40ZM234.137 241.40V201.80H234.588V241.40ZM234.638 241.40V198.88H235.089V241.40ZM235.139 241.40V206.56H235.590V241.40ZM235.640 241.40V202.45H236.091V241.40ZM236.141 241.40V202.70H236.592V241.40ZM236.642 241.40V203.22H237.093V241.40ZM237.143 241.40V203.29H237.594V241.40ZM237.644 241.40V201.24H238.095V241.40ZM238.145 241.40V207.17H238.596V241.40ZM238.646 241.40V206.58H239.097V241.40ZM239.147 241.40V206.94H239.598V241.40ZM239.648 241.40V204.99H240.099V241.40ZM240.149 241.40V205.10H240.600V241.40ZM240.650 241.40V202.83H241.101V241.40ZM241.151 241.40V203.07H241.602V241.40ZM241.652 241.40V203.62H242.103V241.40ZM242.153 241.40V205.27H242.604V241.40ZM242.654 241.40V204.72H243.105V241.40ZM243.155 241.40V201.47H243.606V241.40ZM243.656 241.40V201.91H244.107V241.40ZM244.157 241.40V203.45H244.608V241.40ZM244.658 241.40V204.44H245.109V241.40ZM245.159 241.40V200.07H245.610V241.40ZM245.660 241.40V205.07H246.111V241.40ZM246.161 241.40V202.18H246.612V241.40ZM246.662 241.40V201.00H247.113V241.40ZM247.163 241.40V204.31H247.614V241.40ZM247.664 241.40V201.77H248.115V241.40ZM248.165 241.40V206.29H248.616V241.40ZM248.666 241.40V201.33H249.117V241.40ZM249.167 241.40V203.22H249.618V241.40ZM249.668 241.40V207.39H250.119V241.40ZM250.169 241.40V202.13H250.620V241.40ZM250.670 241.40V205.77H251.121V241.40ZM251.171 241.40V200.70H251.622V241.40ZM251.672 241.40V205.27H252.123V241.40ZM252.173 241.40V204.07H252.624V241.40ZM252.674 241.40V203.03H253.125V241.40ZM253.175 241.40V204.46H253.626V241.40ZM253.676 241.40V203.08H254.127V241.40ZM254.177 241.40V204.98H254.628V241.40ZM254.678 241.40V202.12H255.129V241.40ZM255.179 241.40V203.68H255.630V241.40ZM255.680 241.40V203.20H256.131V241.40ZM256.181 241.40V210.10H256.632V241.40ZM256.682 241.40V200.98H257.133V241.40ZM257.183 241.40V203.62H257.634V241.40ZM257.684 241.40V207.84H258.135V241.40ZM258.185 241.40V203.47H258.636V241.40ZM258.686 241.40V202.60H259.137V241.40ZM259.187 241.40V201.20H259.638V241.40ZM259.688 241.40V206.21H260.139V241.40ZM260.189 241.40V200.09H260.640V241.40ZM260.690 241.40V204.06H261.141V241.40ZM261.191 241.40V198.11H261.642V241.40ZM261.692 241.40V204.03H262.143V241.40ZM262.193 241.40V202.11H262.644V241.40ZM262.694 241.40V204.54H263.145V241.40ZM263.195 241.40V206.29H263.646V241.40ZM263.696 241.40V201.13H264.147V241.40ZM264.197 241.40V201.58H264.648V241.40ZM264.698 241.40V200.11H265.149V241.40ZM265.199 241.40V201.69H265.650V241.40ZM265.700 241.40V205.02H266.151V241.40ZM266.201 241.40V207.56H266.652V241.40ZM266.702 241.40V205.21H267.153V241.40ZM267.203 241.40V205.26H267.654V241.40ZM267.704 241.40V205.59H268.155V241.40ZM268.205 241.40V202.33H268.656V241.40ZM268.706 241.40V202.93H269.157V241.40ZM269.207 241.40V204.32H269.658V241.40ZM269.708 241.40V203.29H270.159V241.40ZM270.209 241.40V204.03H270.660V241.40ZM270.710 241.40V203.19H271.161V241.40ZM271.211 241.40V201.94H271.662V241.40ZM271.712 241.40V201.45H272.163V241.40ZM272.213 241.40V205.29H272.664V241.40ZM272.714 241.40V207.20H273.165V241.40ZM273.215 241.40V200.36H273.666V241.40ZM273.716 241.40V203.42H274.167V241.40ZM274.217 241.40V201.11H274.668V241.40ZM274.718 241.40V207.52H275.169V241.40ZM275.219 241.40V204.46H275.670V241.40ZM275.720 241.40V203.63H276.171V241.40ZM276.221 241.40V207.05H276.672V241.40ZM276.722 241.40V204.89H277.173V241.40ZM277.223 241.40V202.00H277.674V241.40ZM277.724 241.40V201.18H278.175V241.40ZM278.225 241.40V199.98H278.676V241.40ZM278.726 241.40V205.70H279.177V241.40ZM279.227 241.40V206.95H279.678V241.40ZM279.728 241.40V202.48H280.179V241.40ZM280.229 241.40V201.50H280.680V241.40ZM280.730 241.40V203.24H281.181V241.40ZM281.231 241.40V206.72H281.682V241.40ZM281.732 241.40V201.87H282.183V241.40ZM282.233 241.40V201.84H282.684V241.40ZM282.734 241.40V202.40H283.185V241.40ZM283.235 241.40V204.82H283.686V241.40ZM283.736 241.40V202.98H284.187V241.40ZM284.237 241.40V201.85H284.688V241.40ZM284.738 241.40V204.99H285.189V241.40ZM285.239 241.40V207.98H285.690V241.40ZM285.740 241.40V202.92H286.191V241.40ZM286.241 241.40V202.57H286.692V241.40ZM286.742 241.40V203.66H287.193V241.40ZM287.243 241.40V201.62H287.694V241.40ZM287.744 241.40V205.06H288.195V241.40ZM288.245 241.40V203.88H288.696V241.40ZM288.746 241.40V204.40H289.197V241.40ZM289.247 241.40V202.36H289.698V241.40ZM289.748 241.40V199.97H290.199V241.40ZM290.249 241.40V204.27H290.700V241.40ZM290.750 241.40V198.90H291.201V241.40ZM291.251 241.40V200.13H291.702V241.40ZM291.752 241.40V201.85H292.203V241.40ZM292.253 241.40V202.32H292.704V241.40ZM292.754 241.40V199.56H293.205V241.40ZM293.255 241.40V204.11H293.706V241.40ZM293.756 241.40V203.95H294.207V241.40ZM294.257 241.40V206.16H294.708V241.40ZM294.758 241.40V202.59H295.209V241.40ZM295.259 241.40V200.56H295.710V241.40ZM295.760 241.40V202.45H296.211V241.40ZM296.261 241.40V202.70H296.712V241.40ZM296.762 241.40V204.16H297.213V241.40ZM297.263 241.40V203.29H297.714V241.40ZM297.764 241.40V207.01H298.215V241.40ZM298.265 241.40V201.25H298.716V241.40ZM298.766 241.40V204.64H299.217V241.40ZM299.267 241.40V206.26H299.718V241.40ZM299.768 241.40V205.44H300.219V241.40ZM300.269 241.40V205.61H300.720V241.40ZM300.770 241.40V201.70H301.221V241.40ZM301.271 241.40V201.22H301.722V241.40ZM301.772 241.40V206.85H302.223V241.40ZM302.273 241.40V201.53H302.724V241.40ZM302.774 241.40V201.62H303.225V241.40ZM303.275 241.40V205.04H303.726V241.40ZM303.776 241.40V207.15H304.227V241.40ZM304.277 241.40V205.43H304.728V241.40ZM304.778 241.40V205.17H305.229V241.40ZM305.279 241.40V202.89H305.730V241.40ZM305.780 241.40V204.52H306.231V241.40ZM306.281 241.40V208.41H306.732V241.40ZM306.782 241.40V203.15H307.233V241.40ZM307.283 241.40V207.26H307.734V241.40ZM307.784 241.40V201.58H308.235V241.40ZM308.285 241.40V206.50H308.736V241.40ZM308.786 241.40V205.30H309.237V241.40ZM309.287 241.40V205.68H309.738V241.40ZM309.788 241.40V204.95H310.239V241.40ZM310.289 241.40V200.67H310.740V241.40ZM310.790 241.40V201.70H311.241V241.40ZM311.291 241.40V202.29H311.742V241.40ZM311.792 241.40V202.95H312.243V241.40ZM312.293 241.40V207.30H312.744V241.40ZM312.794 241.40V204.90H313.245V241.40ZM313.295 241.40V204.97H313.746V241.40ZM313.796 241.40V205.97H314.247V241.40ZM314.297 241.40V202.50H314.748V241.40ZM314.798 241.40V205.42H315.249V241.40ZM315.299 241.40V205.34H315.750V241.40ZM315.800 241.40V206.12H316.251V241.40ZM316.301 241.40V208.48H316.752V241.40ZM316.802 241.40V202.30H317.253V241.40ZM317.303 241.40V200.59H317.754V241.40ZM317.804 241.40V203.28H318.255V241.40ZM318.305 241.40V205.96H318.756V241.40ZM318.806 241.40V209.99H319.257V241.40ZM319.307 241.40V203.29H319.758V241.40ZM319.808 241.40V200.86H320.259V241.40ZM320.309 241.40V203.00H320.760V241.40ZM320.810 241.40V201.53H321.261V241.40ZM321.311 241.40V200.25H321.762V241.40ZM321.812 241.40V201.06H322.263V241.40ZM322.313 241.40V204.72H322.764V241.40ZM322.814 241.40V201.24H323.265V241.40ZM323.315 241.40V201.88H323.766V241.40ZM323.816 241.40V207.27H324.267V241.40ZM324.317 241.40V204.63H324.768V241.40ZM324.818 241.40V207.01H325.269V241.40ZM325.319 241.40V203.94H325.770V241.40ZM325.820 241.40V202.34H326.271V241.40ZM326.321 241.40V206.18H326.772V241.40ZM326.822 241.40V208.48H327.273V241.40ZM327.323 241.40V200.66H327.774V241.40ZM327.824 241.40V202.81H328.275V241.40ZM328.325 241.40V200.26H328.776V241.40ZM328.826 241.40V206.77H329.277V241.40ZM329.327 241.40V201.22H329.778V241.40ZM329.828 241.40V198.86H330.279V241.40ZM330.329 241.40V199.01H330.780V241.40ZM330.830 241.40V204.18H331.281V241.40ZM331.331 241.40V203.06H331.782V241.40ZM331.832 241.40V204.05H332.283V241.40ZM332.333 241.40V201.36H332.784V241.40ZM332.834 241.40V201.27H333.285V241.40ZM333.335 241.40V203.49H333.786V241.40ZM333.836 241.40V206.86H334.287V241.40ZM334.337 241.40V201.96H334.788V241.40ZM334.838 241.40V204.78H335.289V241.40ZM335.339 241.40V202.22H335.790V241.40ZM335.840 241.40V203.08H336.291V241.40ZM336.341 241.40V199.91H336.792V241.40ZM336.842 241.40V201.04H337.293V241.40ZM337.343 241.40V204.74H337.794V241.40ZM337.844 241.40V202.88H338.295V241.40ZM338.345 241.40V199.58H338.796V241.40ZM338.846 241.40V204.94H339.297V241.40ZM339.347 241.40V202.68H339.798V241.40ZM339.848 241.40V200.92H340.299V241.40ZM340.349 241.40V200.76H340.800V241.40ZM340.850 241.40V202.48H341.301V241.40ZM341.351 241.40V206.77H341.802V241.40ZM341.852 241.40V206.63H342.303V241.40ZM342.353 241.40V203.11H342.804V241.40ZM342.854 241.40V202.79H343.305V241.40ZM343.355 241.40V197.75H343.806V241.40Z" fill="#0e9bd8"/>
<rect x="215.2" y="241.4" width="126.60" height="7.40" fill="url(#gr)"/>
<path d="M215.2 241.4V147.7H343.6V248.8" fill="none" stroke="#8f8f8f" stroke-width="0.55"/>
<path d="M215.2 241.4H343.6M245.2 248.8H343.6" fill="none" stroke="#8f8f8f" stroke-width="0.45"/>
<text class="t" x="214.20" y="242.60" text-anchor="end">0</text>
<text class="t" x="214.20" y="228.04" text-anchor="end">100</text>
<text class="t" x="214.20" y="213.48" text-anchor="end">200</text>
<text class="t" x="214.20" y="198.92" text-anchor="end">300</text>
<text class="t" x="214.20" y="184.36" text-anchor="end">400</text>
<text class="t" x="214.20" y="169.80" text-anchor="end">500</text>
<text class="t" x="214.20" y="155.24" text-anchor="end">600</text>
<text class="t" x="216.00" y="253.95" text-anchor="middle">0</text>
<text class="t" x="241.05" y="253.95" text-anchor="middle">50</text>
<text class="t" x="266.10" y="253.95" text-anchor="middle">100</text>
<text class="t" x="291.15" y="253.95" text-anchor="middle">150</text>
<text class="t" x="316.20" y="253.95" text-anchor="middle">200</text>
<text class="t" x="341.25" y="253.95" text-anchor="middle">250</text>
<path d="M215.2 241.10h1.2M343.6 241.10h-1.2M215.2 226.54h1.2M343.6 226.54h-1.2M215.2 211.98h1.2M343.6 211.98h-1.2M215.2 197.42h1.2M343.6 197.42h-1.2M215.2 182.86h1.2M343.6 182.86h-1.2M215.2 168.30h1.2M343.6 168.30h-1.2M215.2 153.74h1.2M343.6 153.74h-1.2M215.60 241.4v-1.2M215.60 147.7v1.2M240.65 241.4v-1.2M240.65 147.7v1.2M265.70 241.4v-1.2M265.70 147.7v1.2M290.75 241.4v-1.2M290.75 147.7v1.2M315.80 241.4v-1.2M315.80 147.7v1.2M340.85 241.4v-1.2M340.85 147.7v1.2" stroke="#666" stroke-width="0.45" fill="none"/>
<text class="l" transform="translate(205.10 197.90) rotate(-89.9)" text-anchor="middle" textLength="111.0" lengthAdjust="spacingAndGlyphs">The number of pixels in the corresponding grayscale</text>
<text class="l" x="279.55" y="259.40" text-anchor="middle" textLength="45.0" lengthAdjust="spacingAndGlyphs">Plaintext pixel values</text>
</g>
<g>
<path d="M25.488 377.10V283.40H25.936V377.10ZM25.986 377.10V283.40H26.434V377.10ZM26.484 377.10V283.40H26.932V377.10ZM26.982 377.10V283.40H27.430V377.10ZM27.480 377.10V283.40H27.928V377.10ZM27.978 377.10V283.40H28.426V377.10ZM28.476 377.10V283.40H28.924V377.10ZM28.974 377.10V298.23H29.422V377.10ZM29.472 377.10V340.23H29.920V377.10ZM29.970 377.10V353.57H30.418V377.10ZM30.468 377.10V360.88H30.916V377.10ZM30.966 377.10V362.25H31.414V377.10ZM31.464 377.10V364.62H31.912V377.10ZM31.962 377.10V367.08H32.410V377.10ZM32.460 377.10V367.44H32.908V377.10ZM32.958 377.10V367.52H33.406V377.10ZM33.456 377.10V368.18H33.904V377.10ZM33.954 377.10V368.15H34.402V377.10ZM34.452 377.10V368.12H34.900V377.10ZM34.950 377.10V368.55H35.398V377.10ZM35.448 377.10V367.69H35.896V377.10ZM35.946 377.10V368.71H36.394V377.10ZM36.444 377.10V368.02H36.892V377.10ZM36.942 377.10V368.81H37.390V377.10ZM37.440 377.10V369.57H37.888V377.10ZM37.938 377.10V368.95H38.386V377.10ZM38.436 377.10V369.42H38.884V377.10ZM38.934 377.10V370.19H39.382V377.10ZM39.432 377.10V369.27H39.880V377.10ZM39.930 377.10V370.15H40.378V377.10ZM40.428 377.10V368.92H40.876V377.10ZM40.926 377.10V369.59H41.374V377.10ZM41.424 377.10V369.52H41.872V377.10ZM41.922 377.10V369.47H42.370V377.10ZM42.420 377.10V369.61H42.868V377.10ZM42.918 377.10V370.45H43.366V377.10ZM43.416 377.10V370.28H43.864V377.10ZM43.914 377.10V370.31H44.362V377.10ZM44.412 377.10V371.25H44.860V377.10ZM44.910 377.10V371.80H45.358V377.10ZM45.408 377.10V371.72H45.856V377.10ZM45.906 377.10V371.62H46.354V377.10ZM46.404 377.10V371.11H46.852V377.10ZM46.902 377.10V370.56H47.350V377.10ZM47.400 377.10V370.98H47.848V377.10ZM47.898 377.10V371.04H48.346V377.10ZM48.396 377.10V370.50H48.844V377.10ZM48.894 377.10V371.30H49.342V377.10ZM49.392 377.10V371.36H49.840V377.10ZM49.890 377.10V370.81H50.338V377.10ZM50.388 377.10V371.32H50.836V377.10ZM50.886 377.10V370.44H51.334V377.10ZM51.384 377.10V370.66H51.832V377.10ZM51.882 377.10V371.27H52.330V377.10ZM52.380 377.10V371.67H52.828V377.10ZM52.878 377.10V371.01H53.326V377.10ZM53.376 377.10V370.98H53.824V377.10ZM53.874 377.10V371.54H54.322V377.10ZM54.372 377.10V371.06H54.820V377.10ZM54.870 377.10V371.78H55.318V377.10ZM55.368 377.10V371.61H55.816V377.10ZM55.866 377.10V371.87H56.314V377.10ZM56.364 377.10V371.88H56.812V377.10ZM56.862 377.10V372.43H57.310V377.10ZM57.360 377.10V371.60H57.808V377.10ZM57.858 377.10V371.93H58.306V377.10ZM58.356 377.10V372.94H58.804V377.10ZM58.854 377.10V372.73H59.302V377.10ZM59.352 377.10V372.44H59.800V377.10ZM59.850 377.10V372.98H60.298V377.10ZM60.348 377.10V372.73H60.796V377.10ZM60.846 377.10V373.35H61.294V377.10ZM61.344 377.10V373.39H61.792V377.10ZM61.842 377.10V372.16H62.290V377.10ZM62.340 377.10V371.91H62.788V377.10ZM62.838 377.10V371.86H63.286V377.10ZM63.336 377.10V371.86H63.784V377.10ZM63.834 377.10V371.71H64.282V377.10ZM64.332 377.10V372.02H64.780V377.10ZM64.830 377.10V371.38H65.278V377.10ZM65.328 377.10V371.50H65.776V377.10ZM65.826 377.10V371.72H66.274V377.10ZM66.324 377.10V369.74H66.772V377.10ZM66.822 377.10V370.29H67.270V377.10ZM67.320 377.10V369.26H67.768V377.10ZM67.818 377.10V369.92H68.266V377.10ZM68.316 377.10V369.27H68.764V377.10ZM68.814 377.10V368.27H69.262V377.10ZM69.312 377.10V366.20H69.760V377.10ZM69.810 377.10V366.48H70.258V377.10ZM70.308 377.10V366.19H70.756V377.10ZM70.806 377.10V363.40H71.254V377.10ZM71.304 377.10V362.45H71.752V377.10ZM71.802 377.10V363.27H72.250V377.10ZM72.300 377.10V360.63H72.748V377.10ZM72.798 377.10V359.67H73.246V377.10ZM73.296 377.10V360.50H73.744V377.10ZM73.794 377.10V359.02H74.242V377.10ZM74.292 377.10V359.56H74.740V377.10ZM74.790 377.10V358.17H75.238V377.10ZM75.288 377.10V356.68H75.736V377.10ZM75.786 377.10V356.10H76.234V377.10ZM76.284 377.10V356.38H76.732V377.10ZM76.782 377.10V353.61H77.230V377.10ZM77.280 377.10V352.87H77.728V377.10ZM77.778 377.10V353.41H78.226V377.10ZM78.276 377.10V350.67H78.724V377.10ZM78.774 377.10V351.04H79.222V377.10ZM79.272 377.10V349.83H79.720V377.10ZM79.770 377.10V349.42H80.218V377.10ZM80.268 377.10V349.42H80.716V377.10ZM80.766 377.10V348.52H81.214V377.10ZM81.264 377.10V349.40H81.712V377.10ZM81.762 377.10V346.70H82.210V377.10ZM82.260 377.10V346.96H82.708V377.10ZM82.758 377.10V346.67H83.206V377.10ZM83.256 377.10V345.89H83.704V377.10ZM83.754 377.10V344.81H84.202V377.10ZM84.252 377.10V343.56H84.700V377.10ZM84.750 377.10V343.78H85.198V377.10ZM85.248 377.10V342.28H85.696V377.10ZM85.746 377.10V340.63H86.194V377.10ZM86.244 377.10V340.47H86.692V377.10ZM86.742 377.10V337.81H87.190V377.10ZM87.240 377.10V339.98H87.688V377.10ZM87.738 377.10V341.11H88.186V377.10ZM88.236 377.10V339.38H88.684V377.10ZM88.734 377.10V342.23H89.182V377.10ZM89.232 377.10V340.17H89.680V377.10ZM89.730 377.10V343.42H90.178V377.10ZM90.228 377.10V343.63H90.676V377.10ZM90.726 377.10V344.41H91.174V377.10ZM91.224 377.10V343.53H91.672V377.10ZM91.722 377.10V343.89H92.170V377.10ZM92.220 377.10V347.33H92.668V377.10ZM92.718 377.10V345.55H93.166V377.10ZM93.216 377.10V340.87H93.664V377.10ZM93.714 377.10V341.43H94.162V377.10ZM94.212 377.10V334.97H94.660V377.10ZM94.710 377.10V334.06H95.158V377.10ZM95.208 377.10V329.72H95.656V377.10ZM95.706 377.10V328.69H96.154V377.10ZM96.204 377.10V330.04H96.652V377.10ZM96.702 377.10V326.08H97.150V377.10ZM97.200 377.10V327.10H97.648V377.10ZM97.698 377.10V322.26H98.146V377.10ZM98.196 377.10V322.68H98.644V377.10ZM98.694 377.10V323.25H99.142V377.10ZM99.192 377.10V321.27H99.640V377.10ZM99.690 377.10V314.41H100.138V377.10ZM100.188 377.10V315.77H100.636V377.10ZM100.686 377.10V307.32H101.134V377.10ZM101.184 377.10V303.62H101.632V377.10ZM101.682 377.10V296.99H102.130V377.10ZM102.180 377.10V295.66H102.628V377.10ZM102.678 377.10V293.85H103.126V377.10ZM103.176 377.10V288.06H103.624V377.10ZM103.674 377.10V283.40H104.122V377.10ZM104.172 377.10V283.40H104.620V377.10ZM104.670 377.10V287.77H105.118V377.10ZM105.168 377.10V292.71H105.616V377.10ZM105.666 377.10V301.11H106.114V377.10ZM106.164 377.10V297.49H106.612V377.10ZM106.662 377.10V309.28H107.110V377.10ZM107.160 377.10V308.60H107.608V377.10ZM107.658 377.10V312.19H108.106V377.10ZM108.156 377.10V315.12H108.604V377.10ZM108.654 377.10V319.17H109.102V377.10ZM109.152 377.10V314.39H109.600V377.10ZM109.650 377.10V316.55H110.098V377.10ZM110.148 377.10V314.46H110.596V377.10ZM110.646 377.10V312.43H111.094V377.10ZM111.144 377.10V312.74H111.592V377.10ZM111.642 377.10V317.87H112.090V377.10ZM112.140 377.10V319.71H112.588V377.10ZM112.638 377.10V325.51H113.086V377.10ZM113.136 377.10V326.76H113.584V377.10ZM113.634 377.10V333.47H114.082V377.10ZM114.132 377.10V338.93H114.580V377.10ZM114.630 377.10V346.32H115.078V377.10ZM115.128 377.10V354.11H115.576V377.10ZM115.626 377.10V361.22H116.074V377.10ZM116.124 377.10V365.68H116.572V377.10ZM116.622 377.10V369.37H117.070V377.10ZM117.120 377.10V372.77H117.568V377.10ZM117.618 377.10V372.93H118.066V377.10ZM118.116 377.10V374.93H118.564V377.10ZM118.614 377.10V374.85H119.062V377.10ZM119.112 377.10V374.28H119.560V377.10ZM119.610 377.10V375.90H120.058V377.10ZM120.108 377.10V375.28H120.556V377.10ZM120.606 377.10V375.00H121.054V377.10ZM121.104 377.10V376.35H121.552V377.10ZM121.602 377.10V375.21H122.050V377.10ZM122.100 377.10V376.20H122.548V377.10ZM122.598 377.10V375.65H123.046V377.10ZM123.096 377.10V376.40H123.544V377.10ZM123.594 377.10V376.74H124.042V377.10ZM124.092 377.10V376.73H124.540V377.10ZM124.590 377.10V376.87H125.038V377.10ZM125.088 377.10V377.00H125.536V377.10ZM125.586 377.10V376.79H126.034V377.10ZM126.084 377.10V375.81H126.532V377.10ZM126.582 377.10V375.78H127.030V377.10ZM127.080 377.10V375.77H127.528V377.10ZM127.578 377.10V376.44H128.026V377.10ZM128.076 377.10V375.76H128.524V377.10ZM128.574 377.10V376.10H129.022V377.10ZM129.072 377.10V376.53H129.520V377.10ZM129.570 377.10V376.29H130.018V377.10ZM130.068 377.10V376.76H130.516V377.10ZM130.566 377.10V376.91H131.014V377.10ZM131.064 377.10V376.15H131.512V377.10ZM131.562 377.10V375.75H132.010V377.10ZM132.060 377.10V376.37H132.508V377.10ZM132.558 377.10V376.57H133.006V377.10ZM133.056 377.10V376.39H133.504V377.10ZM133.554 377.10V376.24H134.002V377.10ZM134.052 377.10V375.63H134.500V377.10ZM134.550 377.10V375.53H134.998V377.10ZM135.048 377.10V375.65H135.496V377.10ZM135.546 377.10V376.52H135.994V377.10ZM136.044 377.10V376.43H136.492V377.10ZM136.542 377.10V376.56H136.990V377.10ZM137.040 377.10V375.43H137.488V377.10ZM137.538 377.10V375.43H137.986V377.10ZM138.036 377.10V376.42H138.484V377.10ZM138.534 377.10V376.63H138.982V377.10ZM139.032 377.10V376.31H139.480V377.10ZM139.530 377.10V376.65H139.978V377.10ZM140.028 377.10V376.21H140.476V377.10ZM140.526 377.10V376.76H140.974V377.10ZM141.024 377.10V375.92H141.472V377.10ZM141.522 377.10V376.18H141.970V377.10ZM142.020 377.10V376.45H142.468V377.10ZM142.518 377.10V376.66H142.966V377.10ZM143.016 377.10V375.88H143.464V377.10ZM143.514 377.10V376.68H143.962V377.10ZM144.012 377.10V376.95H144.460V377.10ZM144.510 377.10V376.39H144.958V377.10ZM145.008 377.10V376.88H145.456V377.10ZM145.506 377.10V376.20H145.954V377.10ZM146.004 377.10V376.42H146.452V377.10ZM146.502 377.10V377.00H146.950V377.10ZM147.000 377.10V376.79H147.448V377.10ZM147.498 377.10V377.00H147.946V377.10ZM147.996 377.10V377.00H148.444V377.10Z" fill="#0e9bd8"/>
<rect x="21.5" y="377.1" width="126.45" height="7.90" fill="url(#gr)"/>
<path d="M21.5 377.1V283.4H149.75V385.0" fill="none" stroke="#8f8f8f" stroke-width="0.55"/>
<path d="M21.5 377.1H149.75M51.5 385.0H149.75" fill="none" stroke="#8f8f8f" stroke-width="0.45"/>
<text class="t" x="20.50" y="378.60" text-anchor="end">0</text>
<text class="t" x="20.50" y="369.69" text-anchor="end">100</text>
<text class="t" x="20.50" y="360.78" text-anchor="end">200</text>
<text class="t" x="20.50" y="351.87" text-anchor="end">300</text>
<text class="t" x="20.50" y="342.96" text-anchor="end">400</text>
<text class="t" x="20.50" y="334.05" text-anchor="end">500</text>
<text class="t" x="20.50" y="325.14" text-anchor="end">600</text>
<text class="t" x="20.50" y="316.23" text-anchor="end">700</text>
<text class="t" x="20.50" y="307.32" text-anchor="end">800</text>
<text class="t" x="20.50" y="298.41" text-anchor="end">900</text>
<text class="t" x="20.50" y="289.50" text-anchor="end">1000</text>
<text class="t" x="22.40" y="390.15" text-anchor="middle">0</text>
<text class="t" x="47.30" y="390.15" text-anchor="middle">50</text>
<text class="t" x="72.20" y="390.15" text-anchor="middle">100</text>
<text class="t" x="97.10" y="390.15" text-anchor="middle">150</text>
<text class="t" x="122.00" y="390.15" text-anchor="middle">200</text>
<text class="t" x="146.90" y="390.15" text-anchor="middle">250</text>
<path d="M21.5 377.10h1.2M149.75 377.10h-1.2M21.5 368.19h1.2M149.75 368.19h-1.2M21.5 359.28h1.2M149.75 359.28h-1.2M21.5 350.37h1.2M149.75 350.37h-1.2M21.5 341.46h1.2M149.75 341.46h-1.2M21.5 332.55h1.2M149.75 332.55h-1.2M21.5 323.64h1.2M149.75 323.64h-1.2M21.5 314.73h1.2M149.75 314.73h-1.2M21.5 305.82h1.2M149.75 305.82h-1.2M21.5 296.91h1.2M149.75 296.91h-1.2M21.5 288.00h1.2M149.75 288.00h-1.2M22.50 377.1v-1.2M22.50 283.4v1.2M47.40 377.1v-1.2M47.40 283.4v1.2M72.30 377.1v-1.2M72.30 283.4v1.2M97.20 377.1v-1.2M97.20 283.4v1.2M122.10 377.1v-1.2M122.10 283.4v1.2M147.00 377.1v-1.2M147.00 283.4v1.2" stroke="#666" stroke-width="0.45" fill="none"/>
<text class="l" transform="translate(10.00 336.35) rotate(-89.9)" text-anchor="middle" textLength="110.7" lengthAdjust="spacingAndGlyphs">The number of pixels in the corresponding grayscale</text>
<text class="l" x="85.78" y="395.60" text-anchor="middle" textLength="45.0" lengthAdjust="spacingAndGlyphs">Plaintext pixel values</text>
</g>
<g>
<path d="M215.600 377.30V337.05H216.051V377.30ZM216.101 377.30V343.49H216.552V377.30ZM216.602 377.30V340.00H217.053V377.30ZM217.103 377.30V339.57H217.554V377.30ZM217.604 377.30V337.35H218.055V377.30ZM218.105 377.30V341.01H218.556V377.30ZM218.606 377.30V338.32H219.057V377.30ZM219.107 377.30V340.91H219.558V377.30ZM219.608 377.30V337.87H220.059V377.30ZM220.109 377.30V335.54H220.560V377.30ZM220.610 377.30V340.52H221.061V377.30ZM221.111 377.30V338.56H221.562V377.30ZM221.612 377.30V341.75H222.063V377.30ZM222.113 377.30V337.32H222.564V377.30ZM222.614 377.30V336.77H223.065V377.30ZM223.115 377.30V339.51H223.566V377.30ZM223.616 377.30V342.23H224.067V377.30ZM224.117 377.30V338.65H224.568V377.30ZM224.618 377.30V336.91H225.069V377.30ZM225.119 377.30V337.05H225.570V377.30ZM225.620 377.30V337.70H226.071V377.30ZM226.121 377.30V343.85H226.572V377.30ZM226.622 377.30V341.17H227.073V377.30ZM227.123 377.30V336.28H227.574V377.30ZM227.624 377.30V342.45H228.075V377.30ZM228.125 377.30V336.95H228.576V377.30ZM228.626 377.30V335.20H229.077V377.30ZM229.127 377.30V337.81H229.578V377.30ZM229.628 377.30V336.98H230.079V377.30ZM230.129 377.30V340.36H230.580V377.30ZM230.630 377.30V342.44H231.081V377.30ZM231.131 377.30V339.83H231.582V377.30ZM231.632 377.30V340.05H232.083V377.30ZM232.133 377.30V339.70H232.584V377.30ZM232.634 377.30V337.97H233.085V377.30ZM233.135 377.30V339.93H233.586V377.30ZM233.636 377.30V339.14H234.087V377.30ZM234.137 377.30V338.60H234.588V377.30ZM234.638 377.30V339.60H235.089V377.30ZM235.139 377.30V335.30H235.590V377.30ZM235.640 377.30V338.56H236.091V377.30ZM236.141 377.30V339.39H236.592V377.30ZM236.642 377.30V340.07H237.093V377.30ZM237.143 377.30V341.05H237.594V377.30ZM237.644 377.30V336.46H238.095V377.30ZM238.145 377.30V339.24H238.596V377.30ZM238.646 377.30V342.10H239.097V377.30ZM239.147 377.30V340.90H239.598V377.30ZM239.648 377.30V339.91H240.099V377.30ZM240.149 377.30V340.63H240.600V377.30ZM240.650 377.30V337.06H241.101V377.30ZM241.151 377.30V342.30H241.602V377.30ZM241.652 377.30V338.44H242.103V377.30ZM242.153 377.30V339.26H242.604V377.30ZM242.654 377.30V342.33H243.105V377.30ZM243.155 377.30V339.48H243.606V377.30ZM243.656 377.30V339.81H244.107V377.30ZM244.157 377.30V338.42H244.608V377.30ZM244.658 377.30V340.64H245.109V377.30ZM245.159 377.30V338.88H245.610V377.30ZM245.660 377.30V343.47H246.111V377.30ZM246.161 377.30V342.11H246.612V377.30ZM246.662 377.30V337.76H247.113V377.30ZM247.163 377.30V337.16H247.614V377.30ZM247.664 377.30V339.62H248.115V377.30ZM248.165 377.30V340.99H248.616V377.30ZM248.666 377.30V337.07H249.117V377.30ZM249.167 377.30V344.46H249.618V377.30ZM249.668 377.30V341.45H250.119V377.30ZM250.169 377.30V338.02H250.620V377.30ZM250.670 377.30V338.07H251.121V377.30ZM251.171 377.30V341.99H251.622V377.30ZM251.672 377.30V343.99H252.123V377.30ZM252.173 377.30V336.21H252.624V377.30ZM252.674 377.30V339.23H253.125V377.30ZM253.175 377.30V341.68H253.626V377.30ZM253.676 377.30V339.46H254.127V377.30ZM254.177 377.30V337.49H254.628V377.30ZM254.678 377.30V345.63H255.129V377.30ZM255.179 377.30V337.00H255.630V377.30ZM255.680 377.30V337.87H256.131V377.30ZM256.181 377.30V344.44H256.632V377.30ZM256.682 377.30V337.79H257.133V377.30ZM257.183 377.30V343.74H257.634V377.30ZM257.684 377.30V336.94H258.135V377.30ZM258.185 377.30V338.66H258.636V377.30ZM258.686 377.30V334.34H259.137V377.30ZM259.187 377.30V341.01H259.638V377.30ZM259.688 377.30V339.58H260.139V377.30ZM260.189 377.30V337.15H260.640V377.30ZM260.690 377.30V341.08H261.141V377.30ZM261.191 377.30V341.23H261.642V377.30ZM261.692 377.30V340.46H262.143V377.30ZM262.193 377.30V339.76H262.644V377.30ZM262.694 377.30V342.11H263.145V377.30ZM263.195 377.30V338.46H263.646V377.30ZM263.696 377.30V338.32H264.147V377.30ZM264.197 377.30V339.42H264.648V377.30ZM264.698 377.30V335.63H265.149V377.30ZM265.199 377.30V340.35H265.650V377.30ZM265.700 377.30V336.55H266.151V377.30ZM266.201 377.30V340.86H266.652V377.30ZM266.702 377.30V337.83H267.153V377.30ZM267.203 377.30V344.10H267.654V377.30ZM267.704 377.30V339.13H268.155V377.30ZM268.205 377.30V340.00H268.656V377.30ZM268.706 377.30V340.74H269.157V377.30ZM269.207 377.30V341.01H269.658V377.30ZM269.708 377.30V340.40H270.159V377.30ZM270.209 377.30V341.27H270.660V377.30ZM270.710 377.30V344.70H271.161V377.30ZM271.211 377.30V340.98H271.662V377.30ZM271.712 377.30V340.87H272.163V377.30ZM272.213 377.30V340.81H272.664V377.30ZM272.714 377.30V342.05H273.165V377.30ZM273.215 377.30V339.91H273.666V377.30ZM273.716 377.30V337.76H274.167V377.30ZM274.217 377.30V340.17H274.668V377.30ZM274.718 377.30V340.74H275.169V377.30ZM275.219 377.30V336.43H275.670V377.30ZM275.720 377.30V337.31H276.171V377.30ZM276.221 377.30V337.44H276.672V377.30ZM276.722 377.30V336.90H277.173V377.30ZM277.223 377.30V340.35H277.674V377.30ZM277.724 377.30V339.89H278.175V377.30ZM278.225 377.30V337.00H278.676V377.30ZM278.726 377.30V340.88H279.177V377.30ZM279.227 377.30V339.87H279.678V377.30ZM279.728 377.30V338.71H280.179V377.30ZM280.229 377.30V338.72H280.680V377.30ZM280.730 377.30V340.23H281.181V377.30ZM281.231 377.30V337.30H281.682V377.30ZM281.732 377.30V340.00H282.183V377.30ZM282.233 377.30V337.90H282.684V377.30ZM282.734 377.30V337.10H283.185V377.30ZM283.235 377.30V338.05H283.686V377.30ZM283.736 377.30V337.88H284.187V377.30ZM284.237 377.30V342.29H284.688V377.30ZM284.738 377.30V342.64H285.189V377.30ZM285.239 377.30V341.03H285.690V377.30ZM285.740 377.30V338.48H286.191V377.30ZM286.241 377.30V336.09H286.692V377.30ZM286.742 377.30V342.44H287.193V377.30ZM287.243 377.30V338.88H287.694V377.30ZM287.744 377.30V341.58H288.195V377.30ZM288.245 377.30V341.30H288.696V377.30ZM288.746 377.30V340.23H289.197V377.30ZM289.247 377.30V337.98H289.698V377.30ZM289.748 377.30V339.09H290.199V377.30ZM290.249 377.30V336.84H290.700V377.30ZM290.750 377.30V341.89H291.201V377.30ZM291.251 377.30V337.52H291.702V377.30ZM291.752 377.30V337.42H292.203V377.30ZM292.253 377.30V339.43H292.704V377.30ZM292.754 377.30V338.48H293.205V377.30ZM293.255 377.30V340.90H293.706V377.30ZM293.756 377.30V342.13H294.207V377.30ZM294.257 377.30V340.53H294.708V377.30ZM294.758 377.30V341.09H295.209V377.30ZM295.259 377.30V332.86H295.710V377.30ZM295.760 377.30V340.72H296.211V377.30ZM296.261 377.30V335.75H296.712V377.30ZM296.762 377.30V339.12H297.213V377.30ZM297.263 377.30V338.86H297.714V377.30ZM297.764 377.30V337.86H298.215V377.30ZM298.265 377.30V341.40H298.716V377.30ZM298.766 377.30V337.45H299.217V377.30ZM299.267 377.30V338.71H299.718V377.30ZM299.768 377.30V343.12H300.219V377.30ZM300.269 377.30V338.19H300.720V377.30ZM300.770 377.30V338.30H301.221V377.30ZM301.271 377.30V338.54H301.722V377.30ZM301.772 377.30V335.90H302.223V377.30ZM302.273 377.30V340.55H302.724V377.30ZM302.774 377.30V338.40H303.225V377.30ZM303.275 377.30V337.85H303.726V377.30ZM303.776 377.30V341.69H304.227V377.30ZM304.277 377.30V336.79H304.728V377.30ZM304.778 377.30V342.97H305.229V377.30ZM305.279 377.30V342.62H305.730V377.30ZM305.780 377.30V338.37H306.231V377.30ZM306.281 377.30V342.13H306.732V377.30ZM306.782 377.30V339.86H307.233V377.30ZM307.283 377.30V343.42H307.734V377.30ZM307.784 377.30V339.43H308.235V377.30ZM308.285 377.30V342.23H308.736V377.30ZM308.786 377.30V338.79H309.237V377.30ZM309.287 377.30V343.16H309.738V377.30ZM309.788 377.30V338.54H310.239V377.30ZM310.289 377.30V340.21H310.740V377.30ZM310.790 377.30V339.44H311.241V377.30ZM311.291 377.30V339.75H311.742V377.30ZM311.792 377.30V339.29H312.243V377.30ZM312.293 377.30V342.67H312.744V377.30ZM312.794 377.30V345.56H313.245V377.30ZM313.295 377.30V339.51H313.746V377.30ZM313.796 377.30V341.77H314.247V377.30ZM314.297 377.30V340.65H314.748V377.30ZM314.798 377.30V338.60H315.249V377.30ZM315.299 377.30V344.21H315.750V377.30ZM315.800 377.30V341.37H316.251V377.30ZM316.301 377.30V341.01H316.752V377.30ZM316.802 377.30V342.05H317.253V377.30ZM317.303 377.30V338.83H317.754V377.30ZM317.804 377.30V339.92H318.255V377.30ZM318.305 377.30V341.50H318.756V377.30ZM318.806 377.30V341.88H319.257V377.30ZM319.307 377.30V337.71H319.758V377.30ZM319.808 377.30V341.13H320.259V377.30ZM320.309 377.30V338.23H320.760V377.30ZM320.810 377.30V338.54H321.261V377.30ZM321.311 377.30V344.00H321.762V377.30ZM321.812 377.30V342.11H322.263V377.30ZM322.313 377.30V339.58H322.764V377.30ZM322.814 377.30V338.79H323.265V377.30ZM323.315 377.30V337.77H323.766V377.30ZM323.816 377.30V337.72H324.267V377.30ZM324.317 377.30V337.18H324.768V377.30ZM324.818 377.30V340.46H325.269V377.30ZM325.319 377.30V340.08H325.770V377.30ZM325.820 377.30V337.78H326.271V377.30ZM326.321 377.30V340.58H326.772V377.30ZM326.822 377.30V337.13H327.273V377.30ZM327.323 377.30V343.29H327.774V377.30ZM327.824 377.30V338.07H328.275V377.30ZM328.325 377.30V339.99H328.776V377.30ZM328.826 377.30V344.17H329.277V377.30ZM329.327 377.30V337.31H329.778V377.30ZM329.828 377.30V338.86H330.279V377.30ZM330.329 377.30V339.54H330.780V377.30ZM330.830 377.30V342.10H331.281V377.30ZM331.331 377.30V340.67H331.782V377.30ZM331.832 377.30V336.07H332.283V377.30ZM332.333 377.30V341.52H332.784V377.30ZM332.834 377.30V347.68H333.285V377.30ZM333.335 377.30V341.59H333.786V377.30ZM333.836 377.30V342.38H334.287V377.30ZM334.337 377.30V339.90H334.788V377.30ZM334.838 377.30V340.51H335.289V377.30ZM335.339 377.30V341.71H335.790V377.30ZM335.840 377.30V341.55H336.291V377.30ZM336.341 377.30V337.15H336.792V377.30ZM336.842 377.30V342.95H337.293V377.30ZM337.343 377.30V335.03H337.794V377.30ZM337.844 377.30V340.86H338.295V377.30ZM338.345 377.30V342.14H338.796V377.30ZM338.846 377.30V337.76H339.297V377.30ZM339.347 377.30V338.28H339.798V377.30ZM339.848 377.30V342.02H340.299V377.30ZM340.349 377.30V337.85H340.800V377.30ZM340.850 377.30V343.88H341.301V377.30ZM341.351 377.30V341.74H341.802V377.30ZM341.852 377.30V336.97H342.303V377.30ZM342.353 377.30V340.19H342.804V377.30ZM342.854 377.30V342.62H343.305V377.30ZM343.355 377.30V338.39H343.806V377.30Z" fill="#0e9bd8"/>
<rect x="215.2" y="377.3" width="126.60" height="7.60" fill="url(#gr)"/>
<path d="M215.2 377.3V283.3H343.6V384.9" fill="none" stroke="#8f8f8f" stroke-width="0.55"/>
<path d="M215.2 377.3H343.6M245.2 384.9H343.6" fill="none" stroke="#8f8f8f" stroke-width="0.45"/>
<text class="t" x="214.20" y="378.50" text-anchor="end">0</text>
<text class="t" x="214.20" y="363.94" text-anchor="end">100</text>
<text class="t" x="214.20" y="349.38" text-anchor="end">200</text>
<text class="t" x="214.20" y="334.82" text-anchor="end">300</text>
<text class="t" x="214.20" y="320.26" text-anchor="end">400</text>
<text class="t" x="214.20" y="305.70" text-anchor="end">500</text>
<text class="t" x="214.20" y="291.14" text-anchor="end">600</text>
<text class="t" x="216.00" y="390.05" text-anchor="middle">0</text>
<text class="t" x="241.05" y="390.05" text-anchor="middle">50</text>
<text class="t" x="266.10" y="390.05" text-anchor="middle">100</text>
<text class="t" x="291.15" y="390.05" text-anchor="middle">150</text>
<text class="t" x="316.20" y="390.05" text-anchor="middle">200</text>
<text class="t" x="341.25" y="390.05" text-anchor="middle">250</text>
<path d="M215.2 377.00h1.2M343.6 377.00h-1.2M215.2 362.44h1.2M343.6 362.44h-1.2M215.2 347.88h1.2M343.6 347.88h-1.2M215.2 333.32h1.2M343.6 333.32h-1.2M215.2 318.76h1.2M343.6 318.76h-1.2M215.2 304.20h1.2M343.6 304.20h-1.2M215.2 289.64h1.2M343.6 289.64h-1.2M215.60 377.3v-1.2M215.60 283.3v1.2M240.65 377.3v-1.2M240.65 283.3v1.2M265.70 377.3v-1.2M265.70 283.3v1.2M290.75 377.3v-1.2M290.75 283.3v1.2M315.80 377.3v-1.2M315.80 283.3v1.2M340.85 377.3v-1.2M340.85 283.3v1.2" stroke="#666" stroke-width="0.45" fill="none"/>
<text class="l" transform="translate(204.50 335.35) rotate(-89.9)" text-anchor="middle" textLength="111.0" lengthAdjust="spacingAndGlyphs">The number of pixels in the corresponding grayscale</text>
<text class="l" x="279.55" y="395.50" text-anchor="middle" textLength="45.0" lengthAdjust="spacingAndGlyphs">Plaintext pixel values</text>
</g>
<g>
<path d="M29.970 513.20V512.92H30.418V513.20ZM30.468 513.20V512.01H30.916V513.20ZM30.966 513.20V512.47H31.414V513.20ZM31.464 513.20V511.37H31.912V513.20ZM31.962 513.20V512.16H32.410V513.20ZM32.460 513.20V510.99H32.908V513.20ZM32.958 513.20V510.29H33.406V513.20ZM33.456 513.20V510.78H33.904V513.20ZM33.954 513.20V510.91H34.402V513.20ZM34.452 513.20V510.21H34.900V513.20ZM34.950 513.20V510.51H35.398V513.20ZM35.448 513.20V509.45H35.896V513.20ZM35.946 513.20V508.74H36.394V513.20ZM36.444 513.20V509.65H36.892V513.20ZM36.942 513.20V508.43H37.390V513.20ZM37.440 513.20V508.34H37.888V513.20ZM37.938 513.20V508.78H38.386V513.20ZM38.436 513.20V507.58H38.884V513.20ZM38.934 513.20V507.94H39.382V513.20ZM39.432 513.20V507.27H39.880V513.20ZM39.930 513.20V506.98H40.378V513.20ZM40.428 513.20V505.71H40.876V513.20ZM40.926 513.20V505.92H41.374V513.20ZM41.424 513.20V506.13H41.872V513.20ZM41.922 513.20V505.00H42.370V513.20ZM42.420 513.20V505.04H42.868V513.20ZM42.918 513.20V503.09H43.366V513.20ZM43.416 513.20V502.43H43.864V513.20ZM43.914 513.20V503.69H44.362V513.20ZM44.412 513.20V501.84H44.860V513.20ZM44.910 513.20V501.37H45.358V513.20ZM45.408 513.20V501.79H45.856V513.20ZM45.906 513.20V500.54H46.354V513.20ZM46.404 513.20V500.09H46.852V513.20ZM46.902 513.20V499.77H47.350V513.20ZM47.400 513.20V499.25H47.848V513.20ZM47.898 513.20V497.76H48.346V513.20ZM48.396 513.20V497.85H48.844V513.20ZM48.894 513.20V498.36H49.342V513.20ZM49.392 513.20V495.22H49.840V513.20ZM49.890 513.20V495.74H50.338V513.20ZM50.388 513.20V494.85H50.836V513.20ZM50.886 513.20V493.71H51.334V513.20ZM51.384 513.20V493.58H51.832V513.20ZM51.882 513.20V494.60H52.330V513.20ZM52.380 513.20V493.37H52.828V513.20ZM52.878 513.20V493.08H53.326V513.20ZM53.376 513.20V492.43H53.824V513.20ZM53.874 513.20V493.55H54.322V513.20ZM54.372 513.20V492.92H54.820V513.20ZM54.870 513.20V490.87H55.318V513.20ZM55.368 513.20V491.83H55.816V513.20ZM55.866 513.20V491.19H56.314V513.20ZM56.364 513.20V491.66H56.812V513.20ZM56.862 513.20V491.03H57.310V513.20ZM57.360 513.20V490.36H57.808V513.20ZM57.858 513.20V489.80H58.306V513.20ZM58.356 513.20V489.05H58.804V513.20ZM58.854 513.20V486.29H59.302V513.20ZM59.352 513.20V486.45H59.800V513.20ZM59.850 513.20V486.32H60.298V513.20ZM60.348 513.20V483.10H60.796V513.20ZM60.846 513.20V482.69H61.294V513.20ZM61.344 513.20V481.49H61.792V513.20ZM61.842 513.20V481.60H62.290V513.20ZM62.340 513.20V480.39H62.788V513.20ZM62.838 513.20V480.28H63.286V513.20ZM63.336 513.20V479.38H63.784V513.20ZM63.834 513.20V479.07H64.282V513.20ZM64.332 513.20V477.15H64.780V513.20ZM64.830 513.20V475.17H65.278V513.20ZM65.328 513.20V477.30H65.776V513.20ZM65.826 513.20V475.62H66.274V513.20ZM66.324 513.20V473.66H66.772V513.20ZM66.822 513.20V473.71H67.270V513.20ZM67.320 513.20V473.55H67.768V513.20ZM67.818 513.20V472.16H68.266V513.20ZM68.316 513.20V470.71H68.764V513.20ZM68.814 513.20V470.93H69.262V513.20ZM69.312 513.20V470.34H69.760V513.20ZM69.810 513.20V469.52H70.258V513.20ZM70.308 513.20V470.47H70.756V513.20ZM70.806 513.20V468.88H71.254V513.20ZM71.304 513.20V469.51H71.752V513.20ZM71.802 513.20V468.88H72.250V513.20ZM72.300 513.20V468.74H72.748V513.20ZM72.798 513.20V467.66H73.246V513.20ZM73.296 513.20V462.92H73.744V513.20ZM73.794 513.20V462.26H74.242V513.20ZM74.292 513.20V466.78H74.740V513.20ZM74.790 513.20V466.19H75.238V513.20ZM75.288 513.20V461.92H75.736V513.20ZM75.786 513.20V461.78H76.234V513.20ZM76.284 513.20V459.30H76.732V513.20ZM76.782 513.20V456.92H77.230V513.20ZM77.280 513.20V456.39H77.728V513.20ZM77.778 513.20V455.75H78.226V513.20ZM78.276 513.20V448.27H78.724V513.20ZM78.774 513.20V451.38H79.222V513.20ZM79.272 513.20V447.08H79.720V513.20ZM79.770 513.20V442.47H80.218V513.20ZM80.268 513.20V442.17H80.716V513.20ZM80.766 513.20V435.35H81.214V513.20ZM81.264 513.20V431.32H81.712V513.20ZM81.762 513.20V431.21H82.210V513.20ZM82.260 513.20V426.65H82.708V513.20ZM82.758 513.20V427.35H83.206V513.20ZM83.256 513.20V425.33H83.704V513.20ZM83.754 513.20V435.80H84.202V513.20ZM84.252 513.20V430.42H84.700V513.20ZM84.750 513.20V439.38H85.198V513.20ZM85.248 513.20V438.81H85.696V513.20ZM85.746 513.20V438.52H86.194V513.20ZM86.244 513.20V435.60H86.692V513.20ZM86.742 513.20V436.71H87.190V513.20ZM87.240 513.20V436.68H87.688V513.20ZM87.738 513.20V442.84H88.186V513.20ZM88.236 513.20V437.79H88.684V513.20ZM88.734 513.20V439.51H89.182V513.20ZM89.232 513.20V442.85H89.680V513.20ZM89.730 513.20V446.17H90.178V513.20ZM90.228 513.20V452.26H90.676V513.20ZM90.726 513.20V451.62H91.174V513.20ZM91.224 513.20V449.53H91.672V513.20ZM91.722 513.20V451.89H92.170V513.20ZM92.220 513.20V452.27H92.668V513.20ZM92.718 513.20V456.73H93.166V513.20ZM93.216 513.20V452.47H93.664V513.20ZM93.714 513.20V456.67H94.162V513.20ZM94.212 513.20V460.51H94.660V513.20ZM94.710 513.20V459.09H95.158V513.20ZM95.208 513.20V460.29H95.656V513.20ZM95.706 513.20V457.28H96.154V513.20ZM96.204 513.20V461.26H96.652V513.20ZM96.702 513.20V459.51H97.150V513.20ZM97.200 513.20V457.28H97.648V513.20ZM97.698 513.20V460.94H98.146V513.20ZM98.196 513.20V462.81H98.644V513.20ZM98.694 513.20V461.74H99.142V513.20ZM99.192 513.20V460.98H99.640V513.20ZM99.690 513.20V463.93H100.138V513.20ZM100.188 513.20V462.09H100.636V513.20ZM100.686 513.20V461.07H101.134V513.20ZM101.184 513.20V466.06H101.632V513.20ZM101.682 513.20V464.95H102.130V513.20ZM102.180 513.20V466.87H102.628V513.20ZM102.678 513.20V465.71H103.126V513.20ZM103.176 513.20V464.50H103.624V513.20ZM103.674 513.20V463.76H104.122V513.20ZM104.172 513.20V462.97H104.620V513.20ZM104.670 513.20V464.05H105.118V513.20ZM105.168 513.20V456.99H105.616V513.20ZM105.666 513.20V463.02H106.114V513.20ZM106.164 513.20V457.86H106.612V513.20ZM106.662 513.20V463.66H107.110V513.20ZM107.160 513.20V461.68H107.608V513.20ZM107.658 513.20V460.50H108.106V513.20ZM108.156 513.20V456.43H108.604V513.20ZM108.654 513.20V457.15H109.102V513.20ZM109.152 513.20V457.48H109.600V513.20ZM109.650 513.20V460.07H110.098V513.20ZM110.148 513.20V460.39H110.596V513.20ZM110.646 513.20V455.37H111.094V513.20ZM111.144 513.20V459.41H111.592V513.20ZM111.642 513.20V455.39H112.090V513.20ZM112.140 513.20V460.80H112.588V513.20ZM112.638 513.20V457.36H113.086V513.20ZM113.136 513.20V462.63H113.584V513.20ZM113.634 513.20V461.59H114.082V513.20ZM114.132 513.20V466.15H114.580V513.20ZM114.630 513.20V468.23H115.078V513.20ZM115.128 513.20V474.21H115.576V513.20ZM115.626 513.20V476.12H116.074V513.20ZM116.124 513.20V478.89H116.572V513.20ZM116.622 513.20V481.36H117.070V513.20ZM117.120 513.20V486.43H117.568V513.20ZM117.618 513.20V490.66H118.066V513.20ZM118.116 513.20V492.45H118.564V513.20ZM118.614 513.20V494.12H119.062V513.20ZM119.112 513.20V495.56H119.560V513.20ZM119.610 513.20V499.51H120.058V513.20ZM120.108 513.20V500.50H120.556V513.20ZM120.606 513.20V501.85H121.054V513.20ZM121.104 513.20V502.04H121.552V513.20ZM121.602 513.20V504.26H122.050V513.20ZM122.100 513.20V505.76H122.548V513.20ZM122.598 513.20V506.89H123.046V513.20ZM123.096 513.20V507.98H123.544V513.20ZM123.594 513.20V508.24H124.042V513.20ZM124.092 513.20V510.03H124.540V513.20ZM124.590 513.20V510.70H125.038V513.20ZM125.088 513.20V511.57H125.536V513.20ZM125.586 513.20V512.82H126.034V513.20Z" fill="#0e9bd8"/>
<rect x="21.5" y="513.2" width="126.45" height="7.50" fill="url(#gr)"/>
<path d="M21.5 513.2V419.5H149.75V520.7" fill="none" stroke="#8f8f8f" stroke-width="0.55"/>
<path d="M21.5 513.2H149.75M51.5 520.7H149.75" fill="none" stroke="#8f8f8f" stroke-width="0.45"/>
<text class="t" x="20.50" y="514.50" text-anchor="end">0</text>
<text class="t" x="20.50" y="503.89" text-anchor="end">100</text>
<text class="t" x="20.50" y="493.28" text-anchor="end">200</text>
<text class="t" x="20.50" y="482.67" text-anchor="end">300</text>
<text class="t" x="20.50" y="472.06" text-anchor="end">400</text>
<text class="t" x="20.50" y="461.45" text-anchor="end">500</text>
<text class="t" x="20.50" y="450.84" text-anchor="end">600</text>
<text class="t" x="20.50" y="440.23" text-anchor="end">700</text>
<text class="t" x="20.50" y="429.62" text-anchor="end">800</text>
<text class="t" x="22.40" y="525.85" text-anchor="middle">0</text>
<text class="t" x="47.30" y="525.85" text-anchor="middle">50</text>
<text class="t" x="72.20" y="525.85" text-anchor="middle">100</text>
<text class="t" x="97.10" y="525.85" text-anchor="middle">150</text>
<text class="t" x="122.00" y="525.85" text-anchor="middle">200</text>
<text class="t" x="146.90" y="525.85" text-anchor="middle">250</text>
<path d="M21.5 513.00h1.2M149.75 513.00h-1.2M21.5 502.39h1.2M149.75 502.39h-1.2M21.5 491.78h1.2M149.75 491.78h-1.2M21.5 481.17h1.2M149.75 481.17h-1.2M21.5 470.56h1.2M149.75 470.56h-1.2M21.5 459.95h1.2M149.75 459.95h-1.2M21.5 449.34h1.2M149.75 449.34h-1.2M21.5 438.73h1.2M149.75 438.73h-1.2M21.5 428.12h1.2M149.75 428.12h-1.2M22.50 513.2v-1.2M22.50 419.5v1.2M47.40 513.2v-1.2M47.40 419.5v1.2M72.30 513.2v-1.2M72.30 419.5v1.2M97.20 513.2v-1.2M97.20 419.5v1.2M122.10 513.2v-1.2M122.10 419.5v1.2M147.00 513.2v-1.2M147.00 419.5v1.2" stroke="#666" stroke-width="0.45" fill="none"/>
<text class="l" transform="translate(11.90 465.90) rotate(-89.9)" text-anchor="middle" textLength="110.6" lengthAdjust="spacingAndGlyphs">The number of pixels in the corresponding grayscale</text>
<text class="l" x="85.78" y="531.30" text-anchor="middle" textLength="45.0" lengthAdjust="spacingAndGlyphs">Plaintext pixel values</text>
</g>
<g>
<path d="M215.600 513.10V476.55H216.051V513.10ZM216.101 513.10V473.07H216.552V513.10ZM216.602 513.10V470.38H217.053V513.10ZM217.103 513.10V476.30H217.554V513.10ZM217.604 513.10V471.21H218.055V513.10ZM218.105 513.10V480.11H218.556V513.10ZM218.606 513.10V472.24H219.057V513.10ZM219.107 513.10V476.16H219.558V513.10ZM219.608 513.10V475.08H220.059V513.10ZM220.109 513.10V476.15H220.560V513.10ZM220.610 513.10V476.81H221.061V513.10ZM221.111 513.10V478.25H221.562V513.10ZM221.612 513.10V476.27H222.063V513.10ZM222.113 513.10V472.49H222.564V513.10ZM222.614 513.10V472.84H223.065V513.10ZM223.115 513.10V476.17H223.566V513.10ZM223.616 513.10V476.57H224.067V513.10ZM224.117 513.10V476.96H224.568V513.10ZM224.618 513.10V478.07H225.069V513.10ZM225.119 513.10V471.35H225.570V513.10ZM225.620 513.10V473.91H226.071V513.10ZM226.121 513.10V475.13H226.572V513.10ZM226.622 513.10V476.49H227.073V513.10ZM227.123 513.10V477.68H227.574V513.10ZM227.624 513.10V472.44H228.075V513.10ZM228.125 513.10V473.64H228.576V513.10ZM228.626 513.10V477.52H229.077V513.10ZM229.127 513.10V473.18H229.578V513.10ZM229.628 513.10V477.87H230.079V513.10ZM230.129 513.10V473.95H230.580V513.10ZM230.630 513.10V477.54H231.081V513.10ZM231.131 513.10V476.32H231.582V513.10ZM231.632 513.10V474.28H232.083V513.10ZM232.133 513.10V474.42H232.584V513.10ZM232.634 513.10V473.13H233.085V513.10ZM233.135 513.10V477.26H233.586V513.10ZM233.636 513.10V471.86H234.087V513.10ZM234.137 513.10V472.38H234.588V513.10ZM234.638 513.10V475.41H235.089V513.10ZM235.139 513.10V474.35H235.590V513.10ZM235.640 513.10V477.13H236.091V513.10ZM236.141 513.10V475.73H236.592V513.10ZM236.642 513.10V478.34H237.093V513.10ZM237.143 513.10V475.19H237.594V513.10ZM237.644 513.10V474.94H238.095V513.10ZM238.145 513.10V472.38H238.596V513.10ZM238.646 513.10V473.27H239.097V513.10ZM239.147 513.10V473.57H239.598V513.10ZM239.648 513.10V476.20H240.099V513.10ZM240.149 513.10V475.89H240.600V513.10ZM240.650 513.10V476.15H241.101V513.10ZM241.151 513.10V474.89H241.602V513.10ZM241.652 513.10V479.71H242.103V513.10ZM242.153 513.10V473.67H242.604V513.10ZM242.654 513.10V478.89H243.105V513.10ZM243.155 513.10V476.54H243.606V513.10ZM243.656 513.10V475.34H244.107V513.10ZM244.157 513.10V476.54H244.608V513.10ZM244.658 513.10V471.67H245.109V513.10ZM245.159 513.10V475.61H245.610V513.10ZM245.660 513.10V471.87H246.111V513.10ZM246.161 513.10V472.76H246.612V513.10ZM246.662 513.10V476.50H247.113V513.10ZM247.163 513.10V474.49H247.614V513.10ZM247.664 513.10V472.49H248.115V513.10ZM248.165 513.10V476.13H248.616V513.10ZM248.666 513.10V475.19H249.117V513.10ZM249.167 513.10V476.64H249.618V513.10ZM249.668 513.10V475.26H250.119V513.10ZM250.169 513.10V476.18H250.620V513.10ZM250.670 513.10V475.20H251.121V513.10ZM251.171 513.10V473.15H251.622V513.10ZM251.672 513.10V472.27H252.123V513.10ZM252.173 513.10V475.09H252.624V513.10ZM252.674 513.10V474.94H253.125V513.10ZM253.175 513.10V473.47H253.626V513.10ZM253.676 513.10V476.04H254.127V513.10ZM254.177 513.10V477.76H254.628V513.10ZM254.678 513.10V472.91H255.129V513.10ZM255.179 513.10V477.48H255.630V513.10ZM255.680 513.10V473.31H256.131V513.10ZM256.181 513.10V477.55H256.632V513.10ZM256.682 513.10V471.30H257.133V513.10ZM257.183 513.10V477.72H257.634V513.10ZM257.684 513.10V473.49H258.135V513.10ZM258.185 513.10V472.04H258.636V513.10ZM258.686 513.10V477.54H259.137V513.10ZM259.187 513.10V472.07H259.638V513.10ZM259.688 513.10V477.23H260.139V513.10ZM260.189 513.10V479.34H260.640V513.10ZM260.690 513.10V473.78H261.141V513.10ZM261.191 513.10V473.82H261.642V513.10ZM261.692 513.10V475.84H262.143V513.10ZM262.193 513.10V481.04H262.644V513.10ZM262.694 513.10V475.51H263.145V513.10ZM263.195 513.10V476.07H263.646V513.10ZM263.696 513.10V476.24H264.147V513.10ZM264.197 513.10V476.04H264.648V513.10ZM264.698 513.10V479.39H265.149V513.10ZM265.199 513.10V476.66H265.650V513.10ZM265.700 513.10V471.36H266.151V513.10ZM266.201 513.10V471.93H266.652V513.10ZM266.702 513.10V476.20H267.153V513.10ZM267.203 513.10V476.98H267.654V513.10ZM267.704 513.10V474.50H268.155V513.10ZM268.205 513.10V473.01H268.656V513.10ZM268.706 513.10V473.77H269.157V513.10ZM269.207 513.10V478.00H269.658V513.10ZM269.708 513.10V475.03H270.159V513.10ZM270.209 513.10V475.08H270.660V513.10ZM270.710 513.10V472.17H271.161V513.10ZM271.211 513.10V472.71H271.662V513.10ZM271.712 513.10V474.22H272.163V513.10ZM272.213 513.10V472.67H272.664V513.10ZM272.714 513.10V476.27H273.165V513.10ZM273.215 513.10V471.95H273.666V513.10ZM273.716 513.10V476.34H274.167V513.10ZM274.217 513.10V474.50H274.668V513.10ZM274.718 513.10V473.34H275.169V513.10ZM275.219 513.10V477.43H275.670V513.10ZM275.720 513.10V476.96H276.171V513.10ZM276.221 513.10V479.32H276.672V513.10ZM276.722 513.10V475.02H277.173V513.10ZM277.223 513.10V475.51H277.674V513.10ZM277.724 513.10V476.12H278.175V513.10ZM278.225 513.10V474.28H278.676V513.10ZM278.726 513.10V480.12H279.177V513.10ZM279.227 513.10V475.44H279.678V513.10ZM279.728 513.10V475.19H280.179V513.10ZM280.229 513.10V475.98H280.680V513.10ZM280.730 513.10V473.61H281.181V513.10ZM281.231 513.10V471.47H281.682V513.10ZM281.732 513.10V476.39H282.183V513.10ZM282.233 513.10V477.49H282.684V513.10ZM282.734 513.10V476.74H283.185V513.10ZM283.235 513.10V475.18H283.686V513.10ZM283.736 513.10V474.08H284.187V513.10ZM284.237 513.10V477.32H284.688V513.10ZM284.738 513.10V473.15H285.189V513.10ZM285.239 513.10V477.68H285.690V513.10ZM285.740 513.10V473.54H286.191V513.10ZM286.241 513.10V474.43H286.692V513.10ZM286.742 513.10V474.35H287.193V513.10ZM287.243 513.10V470.56H287.694V513.10ZM287.744 513.10V475.98H288.195V513.10ZM288.245 513.10V475.76H288.696V513.10ZM288.746 513.10V474.32H289.197V513.10ZM289.247 513.10V473.46H289.698V513.10ZM289.748 513.10V478.38H290.199V513.10ZM290.249 513.10V474.77H290.700V513.10ZM290.750 513.10V477.05H291.201V513.10ZM291.251 513.10V473.98H291.702V513.10ZM291.752 513.10V472.33H292.203V513.10ZM292.253 513.10V475.27H292.704V513.10ZM292.754 513.10V475.63H293.205V513.10ZM293.255 513.10V474.98H293.706V513.10ZM293.756 513.10V482.00H294.207V513.10ZM294.257 513.10V473.67H294.708V513.10ZM294.758 513.10V474.13H295.209V513.10ZM295.259 513.10V475.02H295.710V513.10ZM295.760 513.10V476.28H296.211V513.10ZM296.261 513.10V477.02H296.712V513.10ZM296.762 513.10V475.79H297.213V513.10ZM297.263 513.10V472.68H297.714V513.10ZM297.764 513.10V475.62H298.215V513.10ZM298.265 513.10V472.38H298.716V513.10ZM298.766 513.10V481.14H299.217V513.10ZM299.267 513.10V476.42H299.718V513.10ZM299.768 513.10V474.78H300.219V513.10ZM300.269 513.10V475.42H300.720V513.10ZM300.770 513.10V479.10H301.221V513.10ZM301.271 513.10V476.88H301.722V513.10ZM301.772 513.10V472.59H302.223V513.10ZM302.273 513.10V478.28H302.724V513.10ZM302.774 513.10V477.61H303.225V513.10ZM303.275 513.10V477.84H303.726V513.10ZM303.776 513.10V476.62H304.227V513.10ZM304.277 513.10V473.95H304.728V513.10ZM304.778 513.10V474.06H305.229V513.10ZM305.279 513.10V479.93H305.730V513.10ZM305.780 513.10V472.12H306.231V513.10ZM306.281 513.10V476.71H306.732V513.10ZM306.782 513.10V476.71H307.233V513.10ZM307.283 513.10V471.66H307.734V513.10ZM307.784 513.10V475.57H308.235V513.10ZM308.285 513.10V478.16H308.736V513.10ZM308.786 513.10V476.82H309.237V513.10ZM309.287 513.10V477.01H309.738V513.10ZM309.788 513.10V477.65H310.239V513.10ZM310.289 513.10V476.13H310.740V513.10ZM310.790 513.10V473.43H311.241V513.10ZM311.291 513.10V474.61H311.742V513.10ZM311.792 513.10V478.48H312.243V513.10ZM312.293 513.10V469.16H312.744V513.10ZM312.794 513.10V477.60H313.245V513.10ZM313.295 513.10V475.13H313.746V513.10ZM313.796 513.10V475.32H314.247V513.10ZM314.297 513.10V473.69H314.748V513.10ZM314.798 513.10V476.12H315.249V513.10ZM315.299 513.10V474.37H315.750V513.10ZM315.800 513.10V470.68H316.251V513.10ZM316.301 513.10V475.18H316.752V513.10ZM316.802 513.10V477.81H317.253V513.10ZM317.303 513.10V474.66H317.754V513.10ZM317.804 513.10V477.19H318.255V513.10ZM318.305 513.10V476.22H318.756V513.10ZM318.806 513.10V474.97H319.257V513.10ZM319.307 513.10V474.64H319.758V513.10ZM319.808 513.10V476.03H320.259V513.10ZM320.309 513.10V473.49H320.760V513.10ZM320.810 513.10V475.82H321.261V513.10ZM321.311 513.10V478.31H321.762V513.10ZM321.812 513.10V473.43H322.263V513.10ZM322.313 513.10V476.20H322.764V513.10ZM322.814 513.10V472.68H323.265V513.10ZM323.315 513.10V476.85H323.766V513.10ZM323.816 513.10V474.11H324.267V513.10ZM324.317 513.10V474.69H324.768V513.10ZM324.818 513.10V481.42H325.269V513.10ZM325.319 513.10V478.73H325.770V513.10ZM325.820 513.10V477.89H326.271V513.10ZM326.321 513.10V472.24H326.772V513.10ZM326.822 513.10V479.61H327.273V513.10ZM327.323 513.10V473.35H327.774V513.10ZM327.824 513.10V472.95H328.275V513.10ZM328.325 513.10V474.28H328.776V513.10ZM328.826 513.10V473.88H329.277V513.10ZM329.327 513.10V476.50H329.778V513.10ZM329.828 513.10V475.41H330.279V513.10ZM330.329 513.10V474.89H330.780V513.10ZM330.830 513.10V474.45H331.281V513.10ZM331.331 513.10V473.81H331.782V513.10ZM331.832 513.10V475.85H332.283V513.10ZM332.333 513.10V476.96H332.784V513.10ZM332.834 513.10V476.65H333.285V513.10ZM333.335 513.10V474.47H333.786V513.10ZM333.836 513.10V479.10H334.287V513.10ZM334.337 513.10V478.19H334.788V513.10ZM334.838 513.10V476.31H335.289V513.10ZM335.339 513.10V476.63H335.790V513.10ZM335.840 513.10V475.99H336.291V513.10ZM336.341 513.10V481.34H336.792V513.10ZM336.842 513.10V476.15H337.293V513.10ZM337.343 513.10V475.95H337.794V513.10ZM337.844 513.10V473.65H338.295V513.10ZM338.345 513.10V479.82H338.796V513.10ZM338.846 513.10V476.07H339.297V513.10ZM339.347 513.10V474.33H339.798V513.10ZM339.848 513.10V474.29H340.299V513.10ZM340.349 513.10V472.71H340.800V513.10ZM340.850 513.10V473.03H341.301V513.10ZM341.351 513.10V477.74H341.802V513.10ZM341.852 513.10V473.97H342.303V513.10ZM342.353 513.10V476.14H342.804V513.10ZM342.854 513.10V477.19H343.305V513.10ZM343.355 513.10V471.96H343.806V513.10Z" fill="#0e9bd8"/>
<rect x="215.2" y="513.1" width="126.60" height="7.60" fill="url(#gr)"/>
<path d="M215.2 513.1V419.2H343.6V520.7" fill="none" stroke="#8f8f8f" stroke-width="0.55"/>
<path d="M215.2 513.1H343.6M245.2 520.7H343.6" fill="none" stroke="#8f8f8f" stroke-width="0.45"/>
<text class="t" x="214.20" y="514.50" text-anchor="end">0</text>
<text class="t" x="214.20" y="499.94" text-anchor="end">100</text>
<text class="t" x="214.20" y="485.38" text-anchor="end">200</text>
<text class="t" x="214.20" y="470.82" text-anchor="end">300</text>
<text class="t" x="214.20" y="456.26" text-anchor="end">400</text>
<text class="t" x="214.20" y="441.70" text-anchor="end">500</text>
<text class="t" x="214.20" y="427.14" text-anchor="end">600</text>
<text class="t" x="216.00" y="525.85" text-anchor="middle">0</text>
<text class="t" x="241.05" y="525.85" text-anchor="middle">50</text>
<text class="t" x="266.10" y="525.85" text-anchor="middle">100</text>
<text class="t" x="291.15" y="525.85" text-anchor="middle">150</text>
<text class="t" x="316.20" y="525.85" text-anchor="middle">200</text>
<text class="t" x="341.25" y="525.85" text-anchor="middle">250</text>
<path d="M215.2 513.00h1.2M343.6 513.00h-1.2M215.2 498.44h1.2M343.6 498.44h-1.2M215.2 483.88h1.2M343.6 483.88h-1.2M215.2 469.32h1.2M343.6 469.32h-1.2M215.2 454.76h1.2M343.6 454.76h-1.2M215.2 440.20h1.2M343.6 440.20h-1.2M215.2 425.64h1.2M343.6 425.64h-1.2M215.60 513.1v-1.2M215.60 419.2v1.2M240.65 513.1v-1.2M240.65 419.2v1.2M265.70 513.1v-1.2M265.70 419.2v1.2M290.75 513.1v-1.2M290.75 419.2v1.2M315.80 513.1v-1.2M315.80 419.2v1.2M340.85 513.1v-1.2M340.85 419.2v1.2" stroke="#666" stroke-width="0.45" fill="none"/>
<text class="l" transform="translate(204.30 471.35) rotate(-89.9)" text-anchor="middle" textLength="111.0" lengthAdjust="spacingAndGlyphs">The number of pixels in the corresponding grayscale</text>
<text class="l" x="279.55" y="531.30" text-anchor="middle" textLength="45.0" lengthAdjust="spacingAndGlyphs">Plaintext pixel values</text>
</g>
<text class="c" x="83.1" y="136.1" text-anchor="middle" textLength="69.9" lengthAdjust="spacingAndGlyphs">(<tspan font-weight="bold">a1</tspan>) Original Lena</text>
<text class="c" x="276.4" y="131.8" text-anchor="middle" textLength="78.4" lengthAdjust="spacingAndGlyphs">(<tspan font-weight="bold">a2</tspan>) Encrypted Lena</text>
<text class="c" x="83.2" y="268.0" text-anchor="middle" textLength="80.5" lengthAdjust="spacingAndGlyphs">(<tspan font-weight="bold">b1</tspan>) Original Couple</text>
<text class="c" x="276.1" y="272.5" text-anchor="middle" textLength="89.0" lengthAdjust="spacingAndGlyphs">(<tspan font-weight="bold">b2</tspan>) Encrypted Couple</text>
<text class="c" x="83.0" y="409.1" text-anchor="middle" textLength="98.3" lengthAdjust="spacingAndGlyphs">(<tspan font-weight="bold">c1</tspan>) Original Cameraman</text>
<text class="c" x="277.1" y="408.5" text-anchor="middle" textLength="105.8" lengthAdjust="spacingAndGlyphs">(<tspan font-weight="bold">c2</tspan>) Encrypted Cameraman</text>
<text class="c" x="82.9" y="544.4" text-anchor="middle" textLength="81.5" lengthAdjust="spacingAndGlyphs">(<tspan font-weight="bold">d1</tspan>) Original Baboon</text>
<text class="c" x="276.4" y="543.9" text-anchor="middle" textLength="89.6" lengthAdjust="spacingAndGlyphs">(<tspan font-weight="bold">d2</tspan>) Encrypted Baboon</text>
</svg>
</body></html>
